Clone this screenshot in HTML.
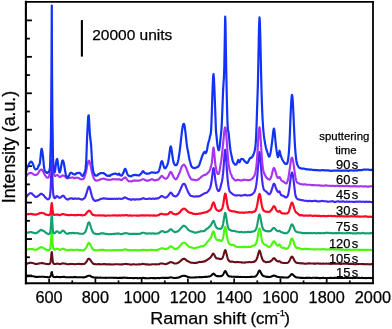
<!DOCTYPE html>
<html><head><meta charset="utf-8"><title>Raman spectra</title>
<style>
html,body{margin:0;padding:0;background:#fff;}
svg{display:block;font-family:"Liberation Sans",sans-serif;fill:#000;}
text{stroke:#000;stroke-width:0.25px;}
</style></head><body>
<svg width="392" height="329" viewBox="0 0 392 329">
<rect x="0" y="0" width="392" height="329" fill="#fff"/>
<g stroke="#000" stroke-width="1.8" fill="none">
<line x1="25.7" y1="20.40" x2="31.9" y2="20.40"/>
<line x1="25.7" y1="56.84" x2="31.9" y2="56.84"/>
<line x1="25.7" y1="93.28" x2="31.9" y2="93.28"/>
<line x1="25.7" y1="129.72" x2="31.9" y2="129.72"/>
<line x1="25.7" y1="166.16" x2="31.9" y2="166.16"/>
<line x1="25.7" y1="202.60" x2="31.9" y2="202.60"/>
<line x1="25.7" y1="239.04" x2="31.9" y2="239.04"/>
<line x1="25.7" y1="275.48" x2="31.9" y2="275.48"/>
<line x1="25.7" y1="38.62" x2="29.9" y2="38.62"/>
<line x1="25.7" y1="75.06" x2="29.9" y2="75.06"/>
<line x1="25.7" y1="111.50" x2="29.9" y2="111.50"/>
<line x1="25.7" y1="147.94" x2="29.9" y2="147.94"/>
<line x1="25.7" y1="184.38" x2="29.9" y2="184.38"/>
<line x1="25.7" y1="220.82" x2="29.9" y2="220.82"/>
<line x1="25.7" y1="257.26" x2="29.9" y2="257.26"/>
</g>
<g>
<path d="M26.3,276.5 L26.7,276.5 L27.1,276.3 L27.5,276.2 L27.9,276.2 L28.3,276.1 L28.7,276.1 L29.1,276.1 L29.5,276.1 L29.9,276.0 L30.3,276.0 L30.7,276.1 L31.1,276.1 L31.5,276.1 L31.9,276.2 L32.3,276.2 L32.7,276.3 L33.1,276.3 L33.5,276.3 L33.9,276.4 L34.3,276.5 L34.7,276.7 L35.1,276.8 L35.5,276.9 L35.9,276.9 L36.3,276.9 L36.7,276.9 L37.1,276.9 L37.5,277.0 L37.9,276.9 L38.3,276.9 L38.7,276.8 L39.1,276.8 L39.5,276.8 L39.9,276.8 L40.3,276.8 L40.7,276.7 L41.1,276.7 L41.5,276.7 L41.6,276.7 L41.9,276.7 L42.3,276.7 L42.7,276.7 L43.1,276.7 L43.5,276.8 L43.9,276.8 L44.3,276.9 L44.7,276.9 L45.1,277.0 L45.5,277.0 L45.9,277.0 L46.3,277.0 L46.7,277.0 L47.1,277.1 L47.5,277.1 L47.9,277.2 L48.3,277.2 L48.7,277.2 L49.1,277.2 L49.5,277.1 L49.9,276.9 L50.3,276.6 L50.7,275.8 L51.1,274.3 L51.5,272.5 L51.8,272.0 L51.9,272.2 L52.3,274.0 L52.7,275.6 L53.1,276.5 L53.5,276.8 L53.9,277.0 L54.3,277.0 L54.7,277.1 L55.1,277.1 L55.5,277.1 L55.9,277.0 L56.3,276.9 L56.7,276.9 L57.1,276.9 L57.1,276.9 L57.5,276.9 L57.9,277.0 L58.3,277.0 L58.7,277.0 L59.1,277.0 L59.5,277.1 L59.9,277.1 L60.3,277.1 L60.7,277.1 L61.1,277.1 L61.5,277.0 L61.9,277.0 L62.3,277.0 L62.7,276.9 L62.8,276.9 L63.1,276.9 L63.5,276.8 L63.9,276.8 L64.3,276.9 L64.7,276.9 L65.1,277.1 L65.5,277.2 L65.9,277.3 L66.3,277.3 L66.7,277.3 L67.1,277.3 L67.5,277.3 L67.9,277.3 L68.3,277.3 L68.7,277.3 L69.1,277.2 L69.5,277.2 L69.9,277.2 L70.3,277.2 L70.7,277.1 L71.1,277.2 L71.5,277.2 L71.9,277.2 L72.3,277.2 L72.7,277.2 L73.1,277.2 L73.5,277.1 L73.9,277.1 L74.3,277.1 L74.7,277.1 L75.1,277.1 L75.5,277.1 L75.9,277.1 L76.3,277.2 L76.7,277.2 L77.1,277.2 L77.5,277.2 L77.9,277.2 L78.3,277.3 L78.7,277.3 L79.1,277.3 L79.5,277.2 L79.9,277.2 L80.3,277.3 L80.7,277.3 L81.1,277.3 L81.5,277.3 L81.9,277.3 L82.3,277.3 L82.7,277.3 L83.1,277.4 L83.5,277.4 L83.9,277.4 L84.3,277.3 L84.7,277.2 L85.1,277.1 L85.5,277.0 L85.9,276.8 L86.3,276.7 L86.7,276.5 L87.1,276.3 L87.5,276.1 L87.9,275.9 L88.2,275.8 L88.3,275.8 L88.7,275.7 L89.1,275.7 L89.5,275.7 L89.9,275.8 L90.3,276.0 L90.7,276.2 L91.1,276.5 L91.5,276.7 L91.9,276.9 L92.3,277.1 L92.7,277.2 L93.1,277.3 L93.5,277.3 L93.9,277.4 L94.3,277.5 L94.7,277.5 L95.1,277.6 L95.5,277.6 L95.9,277.6 L96.3,277.6 L96.7,277.6 L97.1,277.6 L97.5,277.6 L97.9,277.7 L98.3,277.7 L98.7,277.7 L99.1,277.7 L99.5,277.7 L99.9,277.6 L100.3,277.6 L100.7,277.7 L101.1,277.7 L101.5,277.8 L101.9,277.8 L102.3,277.8 L102.7,277.8 L103.1,277.8 L103.5,277.8 L103.9,277.8 L104.3,277.7 L104.7,277.8 L105.1,277.8 L105.5,277.9 L105.9,277.9 L106.3,277.8 L106.7,277.8 L107.1,277.7 L107.5,277.7 L107.9,277.8 L108.3,277.8 L108.7,277.7 L109.1,277.7 L109.5,277.7 L109.9,277.7 L110.3,277.8 L110.7,277.8 L111.1,277.8 L111.5,277.8 L111.9,277.7 L112.3,277.7 L112.7,277.8 L113.1,277.8 L113.5,277.8 L113.9,277.9 L114.3,277.9 L114.7,277.8 L115.1,277.8 L115.5,277.8 L115.9,277.8 L116.3,277.9 L116.7,277.9 L117.1,277.9 L117.5,278.0 L117.9,278.0 L118.3,277.9 L118.7,277.9 L119.1,277.9 L119.5,277.9 L119.9,277.8 L120.3,277.9 L120.7,277.9 L121.1,277.9 L121.5,277.9 L121.9,277.9 L122.3,277.9 L122.7,277.8 L123.1,277.7 L123.5,277.6 L123.9,277.6 L124.3,277.6 L124.7,277.7 L125.1,277.8 L125.5,277.8 L125.9,277.8 L126.3,277.8 L126.7,277.9 L127.1,277.9 L127.5,277.9 L127.9,278.0 L128.3,278.0 L128.7,278.0 L129.1,278.0 L129.5,278.0 L129.9,278.0 L130.3,278.0 L130.7,278.0 L131.1,278.0 L131.5,278.0 L131.9,278.0 L132.3,278.0 L132.7,278.1 L133.1,278.1 L133.5,278.2 L133.9,278.1 L134.3,278.1 L134.7,278.0 L135.1,278.0 L135.5,278.0 L135.9,278.0 L136.3,278.1 L136.7,278.0 L137.1,278.1 L137.5,278.1 L137.9,278.2 L138.3,278.2 L138.7,278.2 L139.1,278.2 L139.5,278.1 L139.9,278.0 L140.3,278.0 L140.7,278.1 L141.1,278.1 L141.5,278.1 L141.9,278.0 L142.3,278.0 L142.7,277.9 L143.1,277.9 L143.5,277.9 L143.9,278.0 L144.3,278.1 L144.7,278.1 L145.1,278.1 L145.5,278.1 L145.9,278.2 L146.3,278.2 L146.7,278.2 L147.1,278.2 L147.5,278.2 L147.9,278.2 L148.3,278.2 L148.7,278.2 L149.1,278.2 L149.5,278.2 L149.9,278.1 L150.3,278.1 L150.7,278.0 L151.1,278.0 L151.5,278.0 L151.9,278.0 L152.3,278.0 L152.7,278.1 L153.1,278.1 L153.5,278.1 L153.9,278.1 L154.3,278.1 L154.7,278.1 L155.1,278.1 L155.5,278.2 L155.9,278.2 L156.3,278.2 L156.7,278.1 L157.1,278.1 L157.5,278.0 L157.9,278.0 L158.3,278.0 L158.7,278.1 L159.1,278.1 L159.5,278.1 L159.9,278.1 L160.3,278.0 L160.7,278.0 L161.1,277.9 L161.5,277.8 L161.9,277.8 L162.3,277.7 L162.7,277.8 L163.1,277.9 L163.5,277.9 L163.9,277.9 L164.3,277.9 L164.7,277.9 L165.1,277.9 L165.5,277.9 L165.9,277.9 L166.3,277.9 L166.7,277.9 L167.1,277.9 L167.5,277.9 L167.9,277.9 L168.3,277.9 L168.7,277.8 L169.1,277.7 L169.5,277.6 L169.9,277.5 L170.3,277.4 L170.7,277.4 L171.1,277.4 L171.5,277.5 L171.9,277.6 L172.3,277.7 L172.7,277.7 L173.1,277.7 L173.5,277.9 L173.9,278.0 L174.3,278.1 L174.7,278.0 L175.1,278.0 L175.5,277.9 L175.9,277.9 L176.3,277.9 L176.7,277.8 L177.1,277.8 L177.5,277.7 L177.9,277.7 L178.3,277.6 L178.7,277.5 L179.1,277.3 L179.5,277.2 L179.9,277.0 L180.3,276.8 L180.7,276.6 L181.1,276.4 L181.5,276.2 L181.9,276.1 L182.3,276.0 L182.7,275.9 L183.1,275.8 L183.5,275.7 L183.8,275.7 L183.9,275.7 L184.3,275.8 L184.7,275.9 L185.1,275.9 L185.5,276.0 L185.9,276.1 L186.3,276.3 L186.7,276.4 L187.1,276.6 L187.5,276.8 L187.9,277.0 L188.3,277.1 L188.7,277.2 L189.1,277.2 L189.5,277.3 L189.9,277.4 L190.3,277.5 L190.7,277.6 L191.1,277.6 L191.5,277.5 L191.9,277.5 L192.3,277.5 L192.7,277.5 L193.1,277.5 L193.5,277.5 L193.9,277.5 L194.3,277.5 L194.7,277.4 L195.1,277.4 L195.5,277.4 L195.9,277.4 L196.3,277.3 L196.7,277.3 L197.1,277.2 L197.5,277.2 L197.9,277.2 L198.3,277.2 L198.7,277.2 L199.1,277.2 L199.5,277.1 L199.9,277.1 L200.3,277.1 L200.7,277.2 L201.1,277.2 L201.5,277.2 L201.9,277.1 L202.3,277.1 L202.7,277.1 L203.1,277.0 L203.5,277.0 L203.9,277.0 L204.3,277.0 L204.7,276.9 L205.1,276.9 L205.5,276.9 L205.9,276.9 L206.3,276.9 L206.7,276.8 L207.1,276.8 L207.5,276.7 L207.9,276.7 L208.3,276.6 L208.7,276.5 L209.1,276.5 L209.5,276.4 L209.9,276.3 L210.3,276.1 L210.7,275.8 L211.1,275.6 L211.5,275.3 L211.9,274.9 L212.3,274.5 L212.7,274.1 L213.1,273.8 L213.5,273.7 L213.5,273.6 L213.9,273.8 L214.3,274.1 L214.7,274.6 L215.1,275.0 L215.5,275.4 L215.9,275.6 L216.3,275.9 L216.7,276.1 L217.1,276.2 L217.5,276.1 L217.9,276.1 L218.3,276.1 L218.7,276.2 L219.1,276.2 L219.5,276.2 L219.9,276.2 L220.3,276.2 L220.7,276.1 L221.1,276.1 L221.5,275.9 L221.9,275.8 L222.3,275.5 L222.7,275.2 L223.1,274.6 L223.5,273.9 L223.9,273.1 L224.3,272.3 L224.7,271.7 L225.1,271.3 L225.2,271.2 L225.2,271.1 L225.5,271.2 L225.9,271.7 L226.3,272.5 L226.7,273.4 L227.1,274.2 L227.5,274.8 L227.9,275.4 L228.3,275.8 L228.7,276.2 L229.1,276.4 L229.5,276.4 L229.9,276.5 L230.3,276.5 L230.7,276.5 L231.1,276.6 L231.5,276.6 L231.9,276.7 L232.3,276.7 L232.7,276.8 L233.1,276.8 L233.5,276.8 L233.9,276.8 L234.3,276.8 L234.7,276.8 L235.1,276.8 L235.5,276.9 L235.9,276.9 L236.3,276.9 L236.7,276.9 L237.1,276.9 L237.5,276.9 L237.9,276.9 L238.3,276.9 L238.7,276.9 L239.1,277.0 L239.5,277.0 L239.9,277.0 L240.3,276.9 L240.7,276.9 L241.1,277.0 L241.5,277.0 L241.9,277.0 L242.3,277.0 L242.7,277.0 L243.1,277.0 L243.5,277.0 L243.9,277.0 L244.3,277.0 L244.7,277.0 L245.1,277.0 L245.5,277.1 L245.9,277.1 L246.3,277.1 L246.7,277.0 L247.1,277.0 L247.5,277.1 L247.9,277.0 L248.3,277.0 L248.7,277.0 L249.1,277.0 L249.5,277.0 L249.9,277.0 L250.3,276.9 L250.7,276.9 L251.1,276.9 L251.5,276.9 L251.9,276.8 L252.3,276.8 L252.7,276.7 L253.1,276.8 L253.5,276.8 L253.9,276.8 L254.3,276.7 L254.7,276.7 L255.1,276.6 L255.5,276.4 L255.9,276.1 L256.3,275.7 L256.7,275.2 L257.1,274.6 L257.5,273.9 L257.9,273.1 L258.3,272.2 L258.7,271.4 L259.1,270.7 L259.5,270.5 L259.5,270.6 L259.9,270.8 L260.3,271.4 L260.7,272.2 L261.1,273.0 L261.5,273.8 L261.9,274.5 L262.3,275.0 L262.7,275.5 L263.1,275.8 L263.5,276.1 L263.9,276.2 L264.3,276.3 L264.7,276.3 L265.1,276.4 L265.5,276.5 L265.9,276.6 L266.3,276.8 L266.7,276.9 L267.1,276.9 L267.5,276.9 L267.9,276.9 L268.3,276.9 L268.7,276.9 L269.1,277.0 L269.5,277.1 L269.9,277.0 L270.3,276.9 L270.7,276.8 L271.1,276.6 L271.5,276.5 L271.9,276.3 L272.3,276.1 L272.7,276.0 L273.1,275.8 L273.5,275.6 L273.9,275.6 L274.0,275.5 L274.3,275.6 L274.7,275.7 L275.1,275.9 L275.5,276.0 L275.9,276.2 L276.3,276.4 L276.7,276.7 L277.1,276.8 L277.5,276.8 L277.9,276.9 L278.3,277.0 L278.7,277.0 L279.1,277.1 L279.5,277.2 L279.9,277.2 L280.3,277.3 L280.7,277.3 L281.1,277.4 L281.5,277.4 L281.9,277.4 L282.3,277.4 L282.7,277.4 L283.1,277.4 L283.5,277.4 L283.9,277.5 L284.3,277.5 L284.7,277.5 L285.1,277.5 L285.5,277.5 L285.9,277.5 L286.3,277.5 L286.7,277.5 L287.1,277.6 L287.5,277.6 L287.9,277.5 L288.3,277.3 L288.7,277.0 L289.1,276.7 L289.5,276.3 L289.9,275.9 L290.3,275.4 L290.7,275.0 L291.1,274.6 L291.5,274.2 L291.9,274.1 L292.0,274.2 L292.3,274.3 L292.7,274.5 L293.1,274.8 L293.5,275.3 L293.9,275.7 L294.3,276.1 L294.7,276.4 L295.1,276.7 L295.5,277.0 L295.9,277.2 L296.3,277.4 L296.7,277.4 L297.1,277.5 L297.5,277.5 L297.9,277.5 L298.3,277.5 L298.7,277.6 L299.1,277.7 L299.5,277.8 L299.9,277.8 L300.3,277.8 L300.7,277.9 L301.1,277.9 L301.5,277.9 L301.9,277.9 L302.3,277.9 L302.7,277.9 L303.1,277.9 L303.5,278.0 L303.9,278.0 L304.3,278.1 L304.7,278.0 L305.1,277.9 L305.5,277.9 L305.9,277.9 L306.3,277.9 L306.7,277.9 L307.1,277.9 L307.5,277.9 L307.9,277.8 L308.3,277.8 L308.7,277.8 L309.1,277.9 L309.5,277.8 L309.9,277.8 L310.3,277.8 L310.7,277.9 L311.1,278.0 L311.5,278.1 L311.9,278.0 L312.3,277.9 L312.7,277.8 L313.1,277.8 L313.5,277.8 L313.9,277.8 L314.3,277.8 L314.7,277.8 L315.1,277.8 L315.5,277.9 L315.9,277.9 L316.3,277.9 L316.7,277.9 L317.1,277.9 L317.5,277.9 L317.9,277.8 L318.3,277.9 L318.7,278.0 L319.1,278.1 L319.5,278.1 L319.9,278.1 L320.3,278.1 L320.7,278.0 L321.1,278.0 L321.5,278.0 L321.9,278.0 L322.3,277.9 L322.7,277.9 L323.1,277.9 L323.5,277.9 L323.9,277.9 L324.3,278.0 L324.7,278.0 L325.1,278.0 L325.5,278.0 L325.9,278.0 L326.3,278.0 L326.7,277.9 L327.1,278.0 L327.5,278.0 L327.9,278.0 L328.3,278.0 L328.7,278.0 L329.1,278.0 L329.5,278.0 L329.9,277.9 L330.3,277.9 L330.7,277.9 L331.1,277.9 L331.5,277.9 L331.9,278.0 L332.3,278.0 L332.7,278.0 L333.1,278.0 L333.5,277.9 L333.9,277.9 L334.3,277.9 L334.7,277.9 L335.1,277.9 L335.5,277.8 L335.9,277.8 L336.3,277.8 L336.7,277.9 L337.1,278.0 L337.5,278.0 L337.9,278.0 L338.3,277.9 L338.7,277.9 L339.1,277.8 L339.5,277.8 L339.9,277.9 L340.3,277.9 L340.7,277.9 L341.1,277.9 L341.5,277.9 L341.9,278.0 L342.3,278.0 L342.7,278.0 L343.1,278.0 L343.5,278.0 L343.9,278.0 L344.3,278.0 L344.7,278.0 L345.1,278.0 L345.5,277.9 L345.9,277.9 L346.3,277.9 L346.7,277.9 L347.1,278.0 L347.5,278.0 L347.9,277.9 L348.3,277.9 L348.7,277.8 L349.1,277.9 L349.5,277.9 L349.9,277.9 L350.3,277.9 L350.7,277.9 L351.1,277.9 L351.5,278.0 L351.9,278.0 L352.3,278.1 L352.7,278.1 L353.1,278.0 L353.5,277.9 L353.9,277.9 L354.3,277.9 L354.7,277.9 L355.1,277.9 L355.5,277.9 L355.9,277.9 L356.3,277.8 L356.7,277.8 L357.1,277.8 L357.5,277.8 L357.9,277.9 L358.3,277.9 L358.7,277.9 L359.1,277.9 L359.5,277.9 L359.9,278.0 L360.3,278.0 L360.7,278.0 L361.1,277.9 L361.5,277.9 L361.9,277.9 L362.3,277.9 L362.7,277.9 L363.1,278.0 L363.5,278.0 L363.9,278.1 L364.3,278.0 L364.7,278.0 L365.1,278.0 L365.5,278.1 L365.9,278.1 L366.3,278.1 L366.7,278.0 L367.1,278.0 L367.5,278.0 L367.9,278.0 L368.3,278.0 L368.7,277.9 L369.1,277.9 L369.5,278.0 L369.9,278.0 L370.3,278.1 L370.7,278.1 L371.1,278.0 L371.5,278.0 L371.9,278.1 L372.3,278.1" fill="none" stroke="#050505" stroke-width="2.1" stroke-linejoin="round" stroke-linecap="round"/>
<path d="M26.3,263.9 L26.7,263.8 L27.1,263.7 L27.5,263.5 L27.9,263.3 L28.3,263.2 L28.7,263.1 L29.1,263.0 L29.5,262.9 L29.9,262.9 L30.3,262.8 L30.7,262.8 L31.1,262.8 L31.5,262.8 L31.9,262.9 L32.3,263.0 L32.7,263.1 L33.1,263.2 L33.5,263.3 L33.9,263.4 L34.3,263.5 L34.7,263.6 L35.1,263.9 L35.5,264.0 L35.9,264.1 L36.3,264.0 L36.7,263.9 L37.1,263.9 L37.5,263.8 L37.9,263.7 L38.3,263.6 L38.7,263.6 L39.1,263.5 L39.5,263.4 L39.9,263.3 L40.3,263.2 L40.7,263.2 L41.1,263.2 L41.5,263.2 L41.6,263.1 L41.9,263.0 L42.3,263.0 L42.7,263.2 L43.1,263.3 L43.5,263.4 L43.9,263.5 L44.3,263.5 L44.7,263.6 L45.1,263.7 L45.5,263.8 L45.9,263.9 L46.3,264.0 L46.7,264.0 L47.1,264.0 L47.5,264.1 L47.9,264.1 L48.3,264.1 L48.7,264.1 L49.1,264.0 L49.5,264.0 L49.9,263.7 L50.3,263.0 L50.7,261.2 L51.1,257.7 L51.5,253.2 L51.8,252.0 L51.9,252.4 L52.3,256.5 L52.7,260.4 L53.1,262.6 L53.5,263.5 L53.9,263.8 L54.3,263.9 L54.7,264.0 L55.1,264.0 L55.5,264.0 L55.9,263.9 L56.3,263.8 L56.7,263.7 L57.1,263.6 L57.1,263.6 L57.5,263.7 L57.9,263.8 L58.3,263.8 L58.7,263.8 L59.1,263.9 L59.5,264.0 L59.9,264.1 L60.3,264.1 L60.7,263.9 L61.1,263.8 L61.5,263.7 L61.9,263.5 L62.3,263.4 L62.7,263.3 L62.8,263.3 L63.1,263.4 L63.5,263.4 L63.9,263.5 L64.3,263.5 L64.7,263.6 L65.1,263.7 L65.5,263.7 L65.9,263.8 L66.3,264.0 L66.7,264.1 L67.1,264.2 L67.5,264.2 L67.9,264.2 L68.3,264.2 L68.7,264.2 L69.1,264.1 L69.5,264.1 L69.9,264.0 L70.3,264.0 L70.7,263.9 L71.1,264.0 L71.5,264.0 L71.9,264.0 L72.3,264.0 L72.7,264.0 L73.1,264.0 L73.5,264.1 L73.9,264.1 L74.3,264.2 L74.7,264.2 L75.1,264.3 L75.5,264.2 L75.9,264.1 L76.3,264.0 L76.7,264.0 L77.1,264.0 L77.5,264.0 L77.9,264.0 L78.3,263.9 L78.7,263.8 L79.1,263.9 L79.5,263.9 L79.9,264.0 L80.3,264.0 L80.7,264.1 L81.1,264.1 L81.5,264.1 L81.9,264.1 L82.3,264.0 L82.7,263.9 L83.1,264.0 L83.5,264.0 L83.9,264.0 L84.3,263.9 L84.7,263.6 L85.1,263.3 L85.5,262.9 L85.9,262.5 L86.3,262.0 L86.7,261.5 L87.1,260.8 L87.5,260.1 L87.9,259.4 L88.2,258.9 L88.3,258.9 L88.7,258.7 L89.1,258.7 L89.5,258.9 L89.9,259.3 L90.3,259.8 L90.7,260.4 L91.1,261.1 L91.5,261.7 L91.9,262.2 L92.3,262.7 L92.7,263.1 L93.1,263.6 L93.5,263.9 L93.9,264.0 L94.3,264.0 L94.7,264.1 L95.1,264.1 L95.5,264.2 L95.9,264.2 L96.3,264.3 L96.7,264.3 L97.1,264.3 L97.5,264.3 L97.9,264.1 L98.3,264.1 L98.7,264.1 L99.1,264.1 L99.5,264.2 L99.9,264.2 L100.3,264.4 L100.7,264.4 L101.1,264.3 L101.5,264.3 L101.9,264.3 L102.3,264.2 L102.7,264.2 L103.1,264.1 L103.5,264.1 L103.9,264.1 L104.3,264.2 L104.7,264.1 L105.1,264.1 L105.5,264.2 L105.9,264.3 L106.3,264.4 L106.7,264.4 L107.1,264.4 L107.5,264.4 L107.9,264.3 L108.3,264.3 L108.7,264.3 L109.1,264.4 L109.5,264.4 L109.9,264.4 L110.3,264.4 L110.7,264.4 L111.1,264.4 L111.5,264.5 L111.9,264.5 L112.3,264.5 L112.7,264.4 L113.1,264.4 L113.5,264.5 L113.9,264.4 L114.3,264.3 L114.7,264.2 L115.1,264.2 L115.5,264.2 L115.9,264.2 L116.3,264.3 L116.7,264.2 L117.1,264.2 L117.5,264.2 L117.9,264.2 L118.3,264.2 L118.7,264.3 L119.1,264.3 L119.5,264.4 L119.9,264.5 L120.3,264.5 L120.7,264.4 L121.1,264.4 L121.5,264.4 L121.9,264.4 L122.3,264.4 L122.7,264.4 L123.1,264.3 L123.5,264.2 L123.9,264.1 L124.3,264.0 L124.7,264.0 L125.1,264.0 L125.5,264.0 L125.9,263.9 L126.3,263.8 L126.7,263.9 L127.1,264.0 L127.5,264.2 L127.9,264.3 L128.3,264.3 L128.7,264.2 L129.1,264.3 L129.5,264.4 L129.9,264.4 L130.3,264.5 L130.7,264.5 L131.1,264.6 L131.5,264.6 L131.9,264.5 L132.3,264.4 L132.7,264.4 L133.1,264.3 L133.5,264.3 L133.9,264.3 L134.3,264.3 L134.7,264.4 L135.1,264.5 L135.5,264.5 L135.9,264.5 L136.3,264.5 L136.7,264.5 L137.1,264.5 L137.5,264.5 L137.9,264.4 L138.3,264.3 L138.7,264.3 L139.1,264.3 L139.5,264.4 L139.9,264.4 L140.3,264.3 L140.7,264.3 L141.1,264.3 L141.5,264.2 L141.9,264.1 L142.3,263.9 L142.7,263.9 L143.1,263.9 L143.5,264.0 L143.9,264.0 L144.3,264.1 L144.7,264.2 L145.1,264.3 L145.5,264.4 L145.9,264.4 L146.3,264.4 L146.7,264.4 L147.1,264.4 L147.5,264.4 L147.9,264.4 L148.3,264.5 L148.7,264.6 L149.1,264.6 L149.5,264.6 L149.9,264.6 L150.3,264.5 L150.7,264.5 L151.1,264.5 L151.5,264.4 L151.9,264.3 L152.3,264.2 L152.7,264.2 L153.1,264.2 L153.5,264.2 L153.9,264.2 L154.3,264.2 L154.7,264.2 L155.1,264.2 L155.5,264.3 L155.9,264.4 L156.3,264.4 L156.7,264.3 L157.1,264.2 L157.5,264.2 L157.9,264.2 L158.3,264.2 L158.7,264.2 L159.1,264.2 L159.5,264.0 L159.9,263.8 L160.3,263.6 L160.7,263.5 L161.1,263.5 L161.5,263.5 L161.9,263.5 L162.3,263.5 L162.7,263.6 L163.1,263.7 L163.5,263.8 L163.9,263.8 L164.3,263.9 L164.7,264.0 L165.1,264.1 L165.5,264.2 L165.9,264.2 L166.3,264.1 L166.7,263.9 L167.1,263.7 L167.5,263.5 L167.9,263.3 L168.3,263.2 L168.7,263.0 L169.1,262.8 L169.5,262.5 L169.9,262.3 L170.3,262.2 L170.7,262.1 L171.1,262.2 L171.5,262.3 L171.9,262.4 L172.3,262.5 L172.7,262.6 L173.1,262.8 L173.5,263.0 L173.9,263.2 L174.3,263.4 L174.7,263.5 L175.1,263.5 L175.5,263.5 L175.9,263.5 L176.3,263.4 L176.7,263.3 L177.1,263.2 L177.5,263.1 L177.9,262.9 L178.3,262.7 L178.7,262.4 L179.1,262.1 L179.5,261.8 L179.9,261.5 L180.3,261.1 L180.7,260.8 L181.1,260.5 L181.5,260.2 L181.9,259.8 L182.3,259.4 L182.7,259.1 L183.1,259.0 L183.5,258.9 L183.8,258.9 L183.9,258.9 L184.3,258.9 L184.7,258.9 L185.1,259.1 L185.5,259.4 L185.9,259.8 L186.3,260.1 L186.7,260.5 L187.1,260.8 L187.5,261.1 L187.9,261.2 L188.3,261.4 L188.7,261.6 L189.1,261.8 L189.5,262.1 L189.9,262.3 L190.3,262.5 L190.7,262.6 L191.1,262.7 L191.5,262.7 L191.9,262.7 L192.3,262.7 L192.7,262.8 L193.1,262.8 L193.5,262.9 L193.9,263.0 L194.3,263.0 L194.7,263.0 L195.1,262.9 L195.5,262.9 L195.9,262.9 L196.3,262.9 L196.7,262.8 L197.1,262.7 L197.5,262.5 L197.9,262.4 L198.3,262.3 L198.7,262.2 L199.1,262.0 L199.5,261.9 L199.9,261.9 L200.3,262.0 L200.7,262.1 L201.1,262.0 L201.5,261.9 L201.9,261.8 L202.3,261.9 L202.7,261.8 L203.1,261.7 L203.5,261.5 L203.9,261.4 L204.3,261.4 L204.7,261.4 L205.1,261.3 L205.5,261.0 L205.9,260.7 L206.3,260.4 L206.7,260.2 L207.1,259.9 L207.5,259.7 L207.9,259.4 L208.3,259.2 L208.7,258.9 L209.1,258.6 L209.5,258.3 L209.9,257.9 L210.3,257.6 L210.7,257.2 L211.1,256.7 L211.5,256.0 L211.9,255.4 L212.3,254.6 L212.7,254.0 L213.1,253.6 L213.5,253.7 L213.5,253.8 L213.9,254.2 L214.3,254.8 L214.7,255.6 L215.1,256.5 L215.5,257.2 L215.9,257.8 L216.3,258.2 L216.7,258.4 L217.1,258.5 L217.5,258.5 L217.9,258.6 L218.3,258.6 L218.7,258.6 L219.1,258.7 L219.5,258.8 L219.9,259.0 L220.3,259.1 L220.7,259.1 L221.1,259.0 L221.5,258.9 L221.9,258.6 L222.3,258.2 L222.7,257.5 L223.1,256.5 L223.5,255.3 L223.9,253.8 L224.3,252.3 L224.7,250.9 L225.1,250.1 L225.2,250.1 L225.2,250.1 L225.5,250.4 L225.9,251.4 L226.3,252.9 L226.7,254.6 L227.1,256.2 L227.5,257.6 L227.9,258.8 L228.3,259.8 L228.7,260.5 L229.1,261.0 L229.5,261.2 L229.9,261.5 L230.3,261.7 L230.7,261.7 L231.1,261.7 L231.5,261.6 L231.9,261.6 L232.3,261.6 L232.7,261.7 L233.1,261.8 L233.5,261.9 L233.9,262.0 L234.3,262.1 L234.7,262.2 L235.1,262.3 L235.5,262.2 L235.9,262.2 L236.3,262.1 L236.7,262.1 L237.1,262.1 L237.5,262.0 L237.9,261.9 L238.3,262.0 L238.7,262.1 L239.1,262.3 L239.5,262.3 L239.9,262.2 L240.3,262.2 L240.7,262.2 L241.1,262.3 L241.5,262.5 L241.9,262.6 L242.3,262.6 L242.7,262.5 L243.1,262.5 L243.5,262.5 L243.9,262.6 L244.3,262.6 L244.7,262.6 L245.1,262.5 L245.5,262.4 L245.9,262.4 L246.3,262.3 L246.7,262.3 L247.1,262.3 L247.5,262.3 L247.9,262.3 L248.3,262.3 L248.7,262.2 L249.1,262.1 L249.5,262.0 L249.9,262.1 L250.3,262.2 L250.7,262.3 L251.1,262.3 L251.5,262.2 L251.9,262.2 L252.3,262.1 L252.7,262.0 L253.1,261.9 L253.5,261.8 L253.9,261.9 L254.3,261.8 L254.7,261.5 L255.1,261.2 L255.5,260.9 L255.9,260.4 L256.3,259.7 L256.7,259.0 L257.1,258.0 L257.5,256.8 L257.9,255.4 L258.3,253.8 L258.7,252.4 L259.1,251.2 L259.5,250.7 L259.5,250.6 L259.9,251.0 L260.3,252.2 L260.7,253.7 L261.1,255.3 L261.5,256.7 L261.9,258.0 L262.3,259.0 L262.7,259.8 L263.1,260.5 L263.5,261.0 L263.9,261.3 L264.3,261.5 L264.7,261.6 L265.1,261.8 L265.5,262.0 L265.9,262.2 L266.3,262.3 L266.7,262.2 L267.1,262.1 L267.5,262.0 L267.9,262.0 L268.3,261.9 L268.7,261.9 L269.1,261.9 L269.5,261.8 L269.9,261.7 L270.3,261.5 L270.7,261.2 L271.1,260.9 L271.5,260.6 L271.9,260.2 L272.3,259.8 L272.7,259.2 L273.1,258.7 L273.5,258.3 L273.9,258.2 L274.0,258.2 L274.3,258.2 L274.7,258.5 L275.1,259.0 L275.5,259.5 L275.9,260.0 L276.3,260.5 L276.7,260.8 L277.1,261.1 L277.5,261.3 L277.9,261.4 L278.3,261.4 L278.7,261.4 L279.1,261.2 L279.5,261.2 L279.9,261.4 L280.3,261.9 L280.7,262.3 L281.1,262.5 L281.5,262.6 L281.9,262.7 L282.3,262.7 L282.7,262.8 L283.1,262.9 L283.5,263.0 L283.9,263.0 L284.3,263.0 L284.7,263.0 L285.1,263.0 L285.5,263.1 L285.9,263.0 L286.3,263.0 L286.7,263.0 L287.1,262.9 L287.5,262.8 L287.9,262.6 L288.3,262.3 L288.7,261.9 L289.1,261.4 L289.5,260.7 L289.9,259.9 L290.3,259.0 L290.7,258.2 L291.1,257.4 L291.5,256.8 L291.9,256.6 L292.0,256.6 L292.3,256.8 L292.7,257.2 L293.1,257.8 L293.5,258.6 L293.9,259.5 L294.3,260.3 L294.7,261.1 L295.1,261.6 L295.5,262.0 L295.9,262.3 L296.3,262.7 L296.7,262.8 L297.1,262.9 L297.5,262.9 L297.9,263.0 L298.3,263.1 L298.7,263.2 L299.1,263.1 L299.5,263.2 L299.9,263.2 L300.3,263.3 L300.7,263.4 L301.1,263.4 L301.5,263.3 L301.9,263.3 L302.3,263.3 L302.7,263.4 L303.1,263.4 L303.5,263.5 L303.9,263.6 L304.3,263.6 L304.7,263.7 L305.1,263.7 L305.5,263.7 L305.9,263.7 L306.3,263.6 L306.7,263.6 L307.1,263.6 L307.5,263.5 L307.9,263.5 L308.3,263.4 L308.7,263.4 L309.1,263.4 L309.5,263.4 L309.9,263.4 L310.3,263.4 L310.7,263.5 L311.1,263.5 L311.5,263.5 L311.9,263.5 L312.3,263.5 L312.7,263.5 L313.1,263.6 L313.5,263.6 L313.9,263.6 L314.3,263.6 L314.7,263.6 L315.1,263.6 L315.5,263.6 L315.9,263.6 L316.3,263.6 L316.7,263.5 L317.1,263.4 L317.5,263.4 L317.9,263.4 L318.3,263.5 L318.7,263.5 L319.1,263.6 L319.5,263.6 L319.9,263.6 L320.3,263.6 L320.7,263.6 L321.1,263.7 L321.5,263.7 L321.9,263.7 L322.3,263.6 L322.7,263.6 L323.1,263.6 L323.5,263.6 L323.9,263.7 L324.3,263.7 L324.7,263.7 L325.1,263.7 L325.5,263.7 L325.9,263.6 L326.3,263.5 L326.7,263.6 L327.1,263.7 L327.5,263.7 L327.9,263.7 L328.3,263.6 L328.7,263.6 L329.1,263.7 L329.5,263.8 L329.9,263.8 L330.3,263.9 L330.7,263.9 L331.1,263.9 L331.5,263.8 L331.9,263.7 L332.3,263.7 L332.7,263.7 L333.1,263.6 L333.5,263.6 L333.9,263.6 L334.3,263.7 L334.7,263.7 L335.1,263.7 L335.5,263.7 L335.9,263.7 L336.3,263.7 L336.7,263.7 L337.1,263.7 L337.5,263.7 L337.9,263.8 L338.3,263.7 L338.7,263.7 L339.1,263.7 L339.5,263.8 L339.9,263.9 L340.3,263.9 L340.7,263.9 L341.1,263.9 L341.5,263.9 L341.9,263.8 L342.3,263.7 L342.7,263.6 L343.1,263.6 L343.5,263.7 L343.9,263.8 L344.3,263.8 L344.7,263.8 L345.1,263.7 L345.5,263.8 L345.9,263.7 L346.3,263.8 L346.7,263.7 L347.1,263.7 L347.5,263.7 L347.9,263.8 L348.3,263.9 L348.7,264.0 L349.1,264.0 L349.5,263.9 L349.9,263.8 L350.3,263.8 L350.7,263.9 L351.1,263.9 L351.5,263.9 L351.9,263.9 L352.3,264.0 L352.7,264.0 L353.1,264.1 L353.5,264.1 L353.9,264.2 L354.3,264.2 L354.7,264.2 L355.1,264.2 L355.5,264.2 L355.9,264.2 L356.3,264.1 L356.7,264.1 L357.1,264.0 L357.5,264.0 L357.9,264.0 L358.3,264.1 L358.7,264.1 L359.1,264.1 L359.5,264.0 L359.9,264.0 L360.3,264.0 L360.7,264.1 L361.1,264.0 L361.5,264.0 L361.9,264.0 L362.3,264.1 L362.7,264.1 L363.1,264.1 L363.5,264.1 L363.9,264.1 L364.3,264.1 L364.7,264.2 L365.1,264.2 L365.5,264.2 L365.9,264.2 L366.3,264.2 L366.7,264.1 L367.1,264.1 L367.5,264.2 L367.9,264.3 L368.3,264.3 L368.7,264.2 L369.1,264.2 L369.5,264.3 L369.9,264.4 L370.3,264.4 L370.7,264.3 L371.1,264.2 L371.5,264.1 L371.9,264.1 L372.3,264.1" fill="none" stroke="#680c18" stroke-width="2.1" stroke-linejoin="round" stroke-linecap="round"/>
<path d="M26.3,249.7 L26.7,249.6 L27.1,249.5 L27.5,249.3 L27.9,249.3 L28.3,249.2 L28.7,249.2 L29.1,249.1 L29.5,249.0 L29.9,249.0 L30.3,249.0 L30.7,249.0 L31.1,249.0 L31.5,249.1 L31.9,249.1 L32.3,249.1 L32.7,249.1 L33.1,249.3 L33.5,249.4 L33.9,249.6 L34.3,249.7 L34.7,249.7 L35.1,249.6 L35.5,249.7 L35.9,249.7 L36.3,249.7 L36.7,249.5 L37.1,249.3 L37.5,249.1 L37.9,248.8 L38.3,248.6 L38.7,248.3 L39.1,248.2 L39.5,248.0 L39.9,247.7 L40.3,247.5 L40.7,247.3 L41.1,247.3 L41.5,247.3 L41.6,247.4 L41.9,247.4 L42.3,247.5 L42.7,247.6 L43.1,247.8 L43.5,248.0 L43.9,248.3 L44.3,248.5 L44.7,248.8 L45.1,249.0 L45.5,249.3 L45.9,249.5 L46.3,249.8 L46.7,249.9 L47.1,250.0 L47.5,250.0 L47.9,250.1 L48.3,250.0 L48.7,250.1 L49.1,250.0 L49.5,249.9 L49.9,249.4 L50.3,248.3 L50.7,245.5 L51.1,240.0 L51.5,233.1 L51.8,231.3 L51.9,232.1 L52.3,238.3 L52.7,244.3 L53.1,247.6 L53.5,248.9 L53.9,249.4 L54.3,249.6 L54.7,249.5 L55.1,249.3 L55.5,249.2 L55.9,249.0 L56.3,248.9 L56.7,248.8 L57.1,248.7 L57.1,248.8 L57.5,248.8 L57.9,248.9 L58.3,249.1 L58.7,249.3 L59.1,249.5 L59.5,249.7 L59.9,249.8 L60.3,249.8 L60.7,249.7 L61.1,249.4 L61.5,249.1 L61.9,248.8 L62.3,248.7 L62.7,248.7 L62.8,248.8 L63.1,248.8 L63.5,248.9 L63.9,249.0 L64.3,249.2 L64.7,249.3 L65.1,249.5 L65.5,249.7 L65.9,249.8 L66.3,250.0 L66.7,250.1 L67.1,250.2 L67.5,250.2 L67.9,250.2 L68.3,250.1 L68.7,250.1 L69.1,250.0 L69.5,249.9 L69.9,249.7 L70.3,249.7 L70.7,249.8 L71.1,250.0 L71.5,249.9 L71.9,249.9 L72.3,249.8 L72.7,249.9 L73.1,250.0 L73.5,250.1 L73.9,250.0 L74.3,250.0 L74.7,249.9 L75.1,249.8 L75.5,249.7 L75.9,249.7 L76.3,249.7 L76.7,249.7 L77.1,249.8 L77.5,249.8 L77.9,249.8 L78.3,249.9 L78.7,250.0 L79.1,250.1 L79.5,250.1 L79.9,250.1 L80.3,250.1 L80.7,250.1 L81.1,250.2 L81.5,250.2 L81.9,250.3 L82.3,250.4 L82.7,250.3 L83.1,250.3 L83.5,250.1 L83.9,250.0 L84.3,249.8 L84.7,249.5 L85.1,249.1 L85.5,248.6 L85.9,248.0 L86.3,247.4 L86.7,246.7 L87.1,245.8 L87.5,244.9 L87.9,244.1 L88.2,243.5 L88.3,243.4 L88.7,242.9 L89.1,242.9 L89.5,243.2 L89.9,243.9 L90.3,244.6 L90.7,245.5 L91.1,246.3 L91.5,247.1 L91.9,247.8 L92.3,248.5 L92.7,249.0 L93.1,249.5 L93.5,249.8 L93.9,250.0 L94.3,250.0 L94.7,250.0 L95.1,250.1 L95.5,250.2 L95.9,250.2 L96.3,250.2 L96.7,250.2 L97.1,250.2 L97.5,250.2 L97.9,250.3 L98.3,250.2 L98.7,250.1 L99.1,250.0 L99.5,250.0 L99.9,250.0 L100.3,249.9 L100.7,249.8 L101.1,249.8 L101.5,249.8 L101.9,249.8 L102.3,249.8 L102.7,249.8 L103.1,249.8 L103.5,249.8 L103.9,249.9 L104.3,250.0 L104.7,250.1 L105.1,250.2 L105.5,250.2 L105.9,250.2 L106.3,250.3 L106.7,250.4 L107.1,250.4 L107.5,250.3 L107.9,250.2 L108.3,250.2 L108.7,250.2 L109.1,250.2 L109.5,250.2 L109.9,250.2 L110.3,250.2 L110.7,250.3 L111.1,250.3 L111.5,250.3 L111.9,250.3 L112.3,250.3 L112.7,250.2 L113.1,250.1 L113.5,250.1 L113.9,250.2 L114.3,250.1 L114.7,250.0 L115.1,250.0 L115.5,250.1 L115.9,250.2 L116.3,250.3 L116.7,250.2 L117.1,250.1 L117.5,250.0 L117.9,250.0 L118.3,250.1 L118.7,250.1 L119.1,250.2 L119.5,250.1 L119.9,250.1 L120.3,250.1 L120.7,250.1 L121.1,250.1 L121.5,250.1 L121.9,250.1 L122.3,250.1 L122.7,250.1 L123.1,250.0 L123.5,249.9 L123.9,249.7 L124.3,249.5 L124.7,249.4 L125.1,249.3 L125.5,249.4 L125.9,249.5 L126.3,249.6 L126.7,249.8 L127.1,249.8 L127.5,249.9 L127.9,250.0 L128.3,250.2 L128.7,250.2 L129.1,250.1 L129.5,250.0 L129.9,250.0 L130.3,250.2 L130.7,250.3 L131.1,250.3 L131.5,250.3 L131.9,250.2 L132.3,250.2 L132.7,250.1 L133.1,250.1 L133.5,250.2 L133.9,250.2 L134.3,250.2 L134.7,250.1 L135.1,250.1 L135.5,250.0 L135.9,250.0 L136.3,250.1 L136.7,250.2 L137.1,250.3 L137.5,250.4 L137.9,250.4 L138.3,250.3 L138.7,250.2 L139.1,250.1 L139.5,250.1 L139.9,250.1 L140.3,250.1 L140.7,250.1 L141.1,250.1 L141.5,250.1 L141.9,250.1 L142.3,250.0 L142.7,249.9 L143.1,249.9 L143.5,249.9 L143.9,250.0 L144.3,250.0 L144.7,250.0 L145.1,249.9 L145.5,250.0 L145.9,250.1 L146.3,250.2 L146.7,250.3 L147.1,250.2 L147.5,250.2 L147.9,250.1 L148.3,250.1 L148.7,250.0 L149.1,250.0 L149.5,250.0 L149.9,250.0 L150.3,250.0 L150.7,249.9 L151.1,249.8 L151.5,249.8 L151.9,249.9 L152.3,250.0 L152.7,250.0 L153.1,250.0 L153.5,250.0 L153.9,250.0 L154.3,250.1 L154.7,250.1 L155.1,250.1 L155.5,250.0 L155.9,250.1 L156.3,250.1 L156.7,250.1 L157.1,249.9 L157.5,249.9 L157.9,249.8 L158.3,249.7 L158.7,249.5 L159.1,249.3 L159.5,249.1 L159.9,249.0 L160.3,248.8 L160.7,248.5 L161.1,248.3 L161.5,248.2 L161.9,248.2 L162.3,248.2 L162.7,248.3 L163.1,248.5 L163.5,248.6 L163.9,248.8 L164.3,248.9 L164.7,248.9 L165.1,249.0 L165.5,249.0 L165.9,249.1 L166.3,249.0 L166.7,248.8 L167.1,248.6 L167.5,248.5 L167.9,248.3 L168.3,248.1 L168.7,247.8 L169.1,247.5 L169.5,247.0 L169.9,246.6 L170.3,246.3 L170.7,246.2 L171.1,246.3 L171.5,246.6 L171.9,246.9 L172.3,247.2 L172.7,247.4 L173.1,247.7 L173.5,248.1 L173.9,248.5 L174.3,248.8 L174.7,248.8 L175.1,248.8 L175.5,248.8 L175.9,248.9 L176.3,248.8 L176.7,248.7 L177.1,248.5 L177.5,248.3 L177.9,248.0 L178.3,247.8 L178.7,247.5 L179.1,247.1 L179.5,246.5 L179.9,246.0 L180.3,245.6 L180.7,245.1 L181.1,244.6 L181.5,244.1 L181.9,243.7 L182.3,243.3 L182.7,243.1 L183.1,242.9 L183.5,242.8 L183.8,242.7 L183.9,242.7 L184.3,242.7 L184.7,242.9 L185.1,243.0 L185.5,243.3 L185.9,243.6 L186.3,244.0 L186.7,244.3 L187.1,244.7 L187.5,245.2 L187.9,245.6 L188.3,246.1 L188.7,246.4 L189.1,246.8 L189.5,247.0 L189.9,247.1 L190.3,247.2 L190.7,247.2 L191.1,247.3 L191.5,247.5 L191.9,247.6 L192.3,247.7 L192.7,247.8 L193.1,247.9 L193.5,248.1 L193.9,248.3 L194.3,248.4 L194.7,248.4 L195.1,248.2 L195.5,247.9 L195.9,247.8 L196.3,247.7 L196.7,247.7 L197.1,247.6 L197.5,247.5 L197.9,247.4 L198.3,247.3 L198.7,247.2 L199.1,247.0 L199.5,246.8 L199.9,246.7 L200.3,246.6 L200.7,246.5 L201.1,246.3 L201.5,246.2 L201.9,246.3 L202.3,246.4 L202.7,246.4 L203.1,246.2 L203.5,246.0 L203.9,245.7 L204.3,245.4 L204.7,245.1 L205.1,244.9 L205.5,244.5 L205.9,244.0 L206.3,243.4 L206.7,242.9 L207.1,242.3 L207.5,241.9 L207.9,241.5 L208.3,241.0 L208.7,240.6 L209.1,240.1 L209.5,239.5 L209.9,239.0 L210.3,238.6 L210.7,238.1 L211.1,237.2 L211.5,236.0 L211.9,234.7 L212.3,233.4 L212.7,232.2 L213.1,231.5 L213.5,231.5 L213.5,231.4 L213.9,232.1 L214.3,233.2 L214.7,234.8 L215.1,236.2 L215.5,237.6 L215.9,238.5 L216.3,239.2 L216.7,239.5 L217.1,239.7 L217.5,239.9 L217.9,240.1 L218.3,240.2 L218.7,240.1 L219.1,240.1 L219.5,240.2 L219.9,240.5 L220.3,240.7 L220.7,241.0 L221.1,241.0 L221.5,241.0 L221.9,240.7 L222.3,240.1 L222.7,239.0 L223.1,237.5 L223.5,235.5 L223.9,233.0 L224.3,230.5 L224.7,228.3 L225.1,227.0 L225.2,226.8 L225.2,226.8 L225.5,227.3 L225.9,229.1 L226.3,231.8 L226.7,234.5 L227.1,237.0 L227.5,239.1 L227.9,240.8 L228.3,242.0 L228.7,242.9 L229.1,243.5 L229.5,244.0 L229.9,244.3 L230.3,244.5 L230.7,244.6 L231.1,244.8 L231.5,244.9 L231.9,244.9 L232.3,244.9 L232.7,244.9 L233.1,245.0 L233.5,245.1 L233.9,245.3 L234.3,245.7 L234.7,245.9 L235.1,246.2 L235.5,246.3 L235.9,246.5 L236.3,246.7 L236.7,246.9 L237.1,247.0 L237.5,247.0 L237.9,247.0 L238.3,247.0 L238.7,247.0 L239.1,247.1 L239.5,247.1 L239.9,247.0 L240.3,247.0 L240.7,247.0 L241.1,247.1 L241.5,247.0 L241.9,247.0 L242.3,246.9 L242.7,247.0 L243.1,247.1 L243.5,247.1 L243.9,247.0 L244.3,246.9 L244.7,246.7 L245.1,246.8 L245.5,246.9 L245.9,247.1 L246.3,247.2 L246.7,247.1 L247.1,247.1 L247.5,247.0 L247.9,247.0 L248.3,246.9 L248.7,246.9 L249.1,246.9 L249.5,247.0 L249.9,247.0 L250.3,247.0 L250.7,246.8 L251.1,246.6 L251.5,246.4 L251.9,246.3 L252.3,246.1 L252.7,245.9 L253.1,245.8 L253.5,245.7 L253.9,245.6 L254.3,245.4 L254.7,245.3 L255.1,245.0 L255.5,244.5 L255.9,243.8 L256.3,242.9 L256.7,241.7 L257.1,240.0 L257.5,237.9 L257.9,235.5 L258.3,232.9 L258.7,230.7 L259.1,229.1 L259.5,228.5 L259.5,228.4 L259.9,229.0 L260.3,230.6 L260.7,232.9 L261.1,235.4 L261.5,237.8 L261.9,239.9 L262.3,241.5 L262.7,242.6 L263.1,243.1 L263.5,243.5 L263.9,243.8 L264.3,244.2 L264.7,244.6 L265.1,244.9 L265.5,245.0 L265.9,245.1 L266.3,245.3 L266.7,245.5 L267.1,245.8 L267.5,246.1 L267.9,246.4 L268.3,246.8 L268.7,247.1 L269.1,247.1 L269.5,247.0 L269.9,246.6 L270.3,246.3 L270.7,245.9 L271.1,245.4 L271.5,244.8 L271.9,244.2 L272.3,243.4 L272.7,242.7 L273.1,242.0 L273.5,241.5 L273.9,241.2 L274.0,241.2 L274.3,241.4 L274.7,241.8 L275.1,242.3 L275.5,242.9 L275.9,243.6 L276.3,244.3 L276.7,244.9 L277.1,245.4 L277.5,245.6 L277.9,245.6 L278.3,245.4 L278.7,245.0 L279.1,244.5 L279.5,244.4 L279.9,244.9 L280.3,245.7 L280.7,246.4 L281.1,246.9 L281.5,247.3 L281.9,247.5 L282.3,247.6 L282.7,247.8 L283.1,247.8 L283.5,247.8 L283.9,247.9 L284.3,248.0 L284.7,248.2 L285.1,248.3 L285.5,248.5 L285.9,248.8 L286.3,249.0 L286.7,249.0 L287.1,248.7 L287.5,248.4 L287.9,248.0 L288.3,247.6 L288.7,247.0 L289.1,246.2 L289.5,245.0 L289.9,243.7 L290.3,242.3 L290.7,241.0 L291.1,239.7 L291.5,238.8 L291.9,238.4 L292.0,238.5 L292.3,238.8 L292.7,239.4 L293.1,240.4 L293.5,241.5 L293.9,242.8 L294.3,244.1 L294.7,245.2 L295.1,246.1 L295.5,246.7 L295.9,247.2 L296.3,247.5 L296.7,247.8 L297.1,247.9 L297.5,247.9 L297.9,247.9 L298.3,248.0 L298.7,248.1 L299.1,248.3 L299.5,248.4 L299.9,248.5 L300.3,248.7 L300.7,248.9 L301.1,249.0 L301.5,249.1 L301.9,249.1 L302.3,249.1 L302.7,249.1 L303.1,249.1 L303.5,249.1 L303.9,249.1 L304.3,249.0 L304.7,248.9 L305.1,248.9 L305.5,248.9 L305.9,248.9 L306.3,248.9 L306.7,248.9 L307.1,249.0 L307.5,249.1 L307.9,249.0 L308.3,248.9 L308.7,248.9 L309.1,249.0 L309.5,249.1 L309.9,249.1 L310.3,249.2 L310.7,249.2 L311.1,249.2 L311.5,249.2 L311.9,249.2 L312.3,249.2 L312.7,249.3 L313.1,249.3 L313.5,249.3 L313.9,249.3 L314.3,249.3 L314.7,249.4 L315.1,249.4 L315.5,249.4 L315.9,249.4 L316.3,249.4 L316.7,249.3 L317.1,249.2 L317.5,249.2 L317.9,249.2 L318.3,249.2 L318.7,249.2 L319.1,249.2 L319.5,249.3 L319.9,249.4 L320.3,249.3 L320.7,249.3 L321.1,249.3 L321.5,249.3 L321.9,249.3 L322.3,249.2 L322.7,249.1 L323.1,249.1 L323.5,249.1 L323.9,249.2 L324.3,249.2 L324.7,249.3 L325.1,249.4 L325.5,249.3 L325.9,249.4 L326.3,249.5 L326.7,249.6 L327.1,249.5 L327.5,249.5 L327.9,249.5 L328.3,249.5 L328.7,249.4 L329.1,249.4 L329.5,249.3 L329.9,249.3 L330.3,249.4 L330.7,249.4 L331.1,249.4 L331.5,249.3 L331.9,249.2 L332.3,249.2 L332.7,249.2 L333.1,249.4 L333.5,249.5 L333.9,249.5 L334.3,249.5 L334.7,249.5 L335.1,249.5 L335.5,249.4 L335.9,249.4 L336.3,249.5 L336.7,249.6 L337.1,249.5 L337.5,249.5 L337.9,249.4 L338.3,249.4 L338.7,249.5 L339.1,249.5 L339.5,249.5 L339.9,249.6 L340.3,249.6 L340.7,249.6 L341.1,249.6 L341.5,249.6 L341.9,249.6 L342.3,249.5 L342.7,249.5 L343.1,249.5 L343.5,249.5 L343.9,249.7 L344.3,249.8 L344.7,249.8 L345.1,249.8 L345.5,249.8 L345.9,249.8 L346.3,249.8 L346.7,249.8 L347.1,249.9 L347.5,249.9 L347.9,249.8 L348.3,249.7 L348.7,249.7 L349.1,249.6 L349.5,249.5 L349.9,249.5 L350.3,249.7 L350.7,249.8 L351.1,249.9 L351.5,250.0 L351.9,250.0 L352.3,249.9 L352.7,249.8 L353.1,249.7 L353.5,249.8 L353.9,249.8 L354.3,249.8 L354.7,249.7 L355.1,249.7 L355.5,249.7 L355.9,249.7 L356.3,249.7 L356.7,249.6 L357.1,249.6 L357.5,249.7 L357.9,249.8 L358.3,249.8 L358.7,249.9 L359.1,249.8 L359.5,249.8 L359.9,249.8 L360.3,249.8 L360.7,249.8 L361.1,249.9 L361.5,249.8 L361.9,249.8 L362.3,249.9 L362.7,250.0 L363.1,250.0 L363.5,249.9 L363.9,249.9 L364.3,249.9 L364.7,249.9 L365.1,249.9 L365.5,249.8 L365.9,249.8 L366.3,249.8 L366.7,249.9 L367.1,249.9 L367.5,249.9 L367.9,249.9 L368.3,249.9 L368.7,249.9 L369.1,250.0 L369.5,250.0 L369.9,250.0 L370.3,249.9 L370.7,249.8 L371.1,250.0 L371.5,250.1 L371.9,250.2 L372.3,250.2" fill="none" stroke="#48f808" stroke-width="2.15" stroke-linejoin="round" stroke-linecap="round"/>
<path d="M26.3,233.1 L26.7,232.8 L27.1,232.7 L27.5,232.6 L27.9,232.6 L28.3,232.5 L28.7,232.4 L29.1,232.3 L29.5,232.3 L29.9,232.2 L30.3,232.1 L30.7,232.0 L31.1,232.0 L31.5,232.2 L31.9,232.4 L32.3,232.5 L32.7,232.5 L33.1,232.6 L33.5,232.7 L33.9,232.9 L34.3,233.1 L34.7,233.2 L35.1,233.2 L35.5,233.2 L35.9,233.1 L36.3,233.0 L36.7,232.8 L37.1,232.7 L37.5,232.5 L37.9,232.2 L38.3,231.9 L38.7,231.6 L39.1,231.2 L39.5,230.9 L39.9,230.5 L40.3,230.2 L40.7,230.0 L41.1,229.9 L41.5,230.0 L41.6,230.1 L41.9,230.3 L42.3,230.5 L42.7,230.6 L43.1,230.7 L43.5,230.8 L43.9,231.1 L44.3,231.4 L44.7,231.7 L45.1,232.1 L45.5,232.5 L45.9,232.8 L46.3,233.0 L46.7,233.2 L47.1,233.4 L47.5,233.7 L47.9,234.0 L48.3,234.1 L48.7,234.1 L49.1,233.9 L49.5,233.7 L49.9,233.2 L50.3,232.2 L50.7,229.2 L51.1,223.3 L51.5,215.9 L51.8,213.8 L51.9,214.6 L52.3,221.3 L52.7,227.9 L53.1,231.5 L53.5,232.9 L53.9,233.3 L54.3,233.3 L54.7,233.1 L55.1,232.8 L55.5,232.3 L55.9,232.0 L56.3,231.6 L56.7,231.5 L57.1,231.4 L57.1,231.4 L57.5,231.4 L57.9,231.6 L58.3,232.0 L58.7,232.4 L59.1,232.8 L59.5,233.0 L59.9,233.0 L60.3,232.8 L60.7,232.5 L61.1,232.1 L61.5,231.6 L61.9,231.2 L62.3,230.9 L62.7,230.8 L62.8,230.8 L63.1,230.7 L63.5,230.8 L63.9,231.0 L64.3,231.4 L64.7,231.9 L65.1,232.4 L65.5,232.8 L65.9,233.1 L66.3,233.4 L66.7,233.6 L67.1,233.7 L67.5,233.8 L67.9,233.7 L68.3,233.5 L68.7,233.3 L69.1,233.1 L69.5,233.0 L69.9,233.0 L70.3,233.1 L70.7,233.1 L71.1,233.2 L71.5,233.1 L71.9,233.1 L72.3,233.0 L72.7,232.9 L73.1,233.0 L73.5,233.1 L73.9,233.2 L74.3,233.1 L74.7,233.1 L75.1,233.1 L75.5,233.2 L75.9,233.2 L76.3,233.2 L76.7,233.2 L77.1,233.1 L77.5,233.2 L77.9,233.2 L78.3,233.4 L78.7,233.4 L79.1,233.6 L79.5,233.6 L79.9,233.7 L80.3,233.7 L80.7,233.7 L81.1,233.7 L81.5,233.7 L81.9,233.7 L82.3,233.8 L82.7,233.8 L83.1,233.7 L83.5,233.5 L83.9,233.3 L84.3,233.0 L84.7,232.6 L85.1,232.1 L85.5,231.4 L85.9,230.4 L86.3,229.4 L86.7,228.1 L87.1,226.8 L87.5,225.3 L87.9,224.0 L88.2,223.0 L88.3,222.9 L88.7,222.4 L89.1,222.4 L89.5,222.9 L89.9,223.8 L90.3,225.1 L90.7,226.5 L91.1,227.8 L91.5,229.0 L91.9,230.2 L92.3,231.1 L92.7,231.9 L93.1,232.6 L93.5,233.1 L93.9,233.5 L94.3,233.5 L94.7,233.5 L95.1,233.6 L95.5,233.8 L95.9,234.0 L96.3,234.1 L96.7,234.1 L97.1,234.0 L97.5,234.0 L97.9,233.9 L98.3,234.0 L98.7,234.0 L99.1,234.1 L99.5,234.0 L99.9,233.8 L100.3,233.5 L100.7,233.4 L101.1,233.3 L101.5,233.4 L101.9,233.4 L102.3,233.5 L102.7,233.4 L103.1,233.4 L103.5,233.3 L103.9,233.4 L104.3,233.6 L104.7,233.7 L105.1,233.9 L105.5,233.9 L105.9,234.0 L106.3,234.0 L106.7,233.9 L107.1,233.9 L107.5,234.0 L107.9,234.1 L108.3,234.3 L108.7,234.3 L109.1,234.2 L109.5,234.1 L109.9,234.1 L110.3,234.1 L110.7,234.2 L111.1,234.1 L111.5,234.1 L111.9,234.0 L112.3,234.0 L112.7,234.0 L113.1,233.9 L113.5,233.9 L113.9,233.9 L114.3,233.9 L114.7,233.9 L115.1,233.9 L115.5,233.8 L115.9,233.7 L116.3,233.6 L116.7,233.5 L117.1,233.5 L117.5,233.7 L117.9,233.6 L118.3,233.7 L118.7,233.6 L119.1,233.6 L119.5,233.7 L119.9,233.9 L120.3,234.1 L120.7,234.2 L121.1,234.1 L121.5,234.1 L121.9,234.0 L122.3,233.9 L122.7,233.8 L123.1,233.7 L123.5,233.6 L123.9,233.5 L124.3,233.4 L124.7,233.3 L125.1,233.2 L125.5,233.1 L125.9,233.2 L126.3,233.2 L126.7,233.3 L127.1,233.4 L127.5,233.4 L127.9,233.5 L128.3,233.6 L128.7,233.7 L129.1,233.8 L129.5,233.8 L129.9,234.0 L130.3,234.0 L130.7,234.0 L131.1,233.9 L131.5,233.8 L131.9,233.8 L132.3,233.8 L132.7,233.8 L133.1,233.8 L133.5,233.8 L133.9,233.8 L134.3,233.8 L134.7,233.8 L135.1,233.9 L135.5,233.9 L135.9,233.9 L136.3,233.8 L136.7,233.8 L137.1,233.8 L137.5,233.8 L137.9,233.9 L138.3,233.9 L138.7,233.9 L139.1,233.9 L139.5,233.9 L139.9,233.8 L140.3,233.7 L140.7,233.5 L141.1,233.3 L141.5,233.1 L141.9,233.0 L142.3,232.9 L142.7,232.9 L143.1,232.8 L143.5,232.7 L143.9,232.7 L144.3,232.9 L144.7,233.1 L145.1,233.3 L145.5,233.4 L145.9,233.4 L146.3,233.4 L146.7,233.5 L147.1,233.6 L147.5,233.6 L147.9,233.6 L148.3,233.5 L148.7,233.5 L149.1,233.4 L149.5,233.4 L149.9,233.4 L150.3,233.4 L150.7,233.5 L151.1,233.5 L151.5,233.6 L151.9,233.5 L152.3,233.5 L152.7,233.4 L153.1,233.4 L153.5,233.4 L153.9,233.5 L154.3,233.6 L154.7,233.7 L155.1,233.7 L155.5,233.7 L155.9,233.6 L156.3,233.5 L156.7,233.5 L157.1,233.5 L157.5,233.4 L157.9,233.4 L158.3,233.3 L158.7,233.2 L159.1,233.1 L159.5,232.7 L159.9,232.4 L160.3,232.0 L160.7,231.8 L161.1,231.5 L161.5,231.3 L161.9,231.1 L162.3,231.1 L162.7,231.1 L163.1,231.3 L163.5,231.6 L163.9,231.9 L164.3,232.2 L164.7,232.3 L165.1,232.3 L165.5,232.2 L165.9,232.1 L166.3,232.0 L166.7,231.9 L167.1,231.8 L167.5,231.7 L167.9,231.5 L168.3,231.2 L168.7,230.9 L169.1,230.5 L169.5,230.1 L169.9,229.6 L170.3,229.3 L170.7,229.2 L171.1,229.3 L171.5,229.6 L171.9,230.0 L172.3,230.4 L172.7,230.7 L173.1,231.0 L173.5,231.3 L173.9,231.7 L174.3,231.9 L174.7,232.1 L175.1,232.1 L175.5,232.2 L175.9,232.1 L176.3,231.9 L176.7,231.7 L177.1,231.6 L177.5,231.4 L177.9,231.2 L178.3,231.0 L178.7,230.6 L179.1,230.3 L179.5,229.9 L179.9,229.4 L180.3,228.9 L180.7,228.5 L181.1,228.1 L181.5,227.6 L181.9,227.1 L182.3,226.6 L182.7,226.3 L183.1,225.9 L183.5,225.8 L183.8,225.7 L183.9,225.8 L184.3,225.9 L184.7,226.1 L185.1,226.3 L185.5,226.6 L185.9,227.0 L186.3,227.4 L186.7,227.9 L187.1,228.4 L187.5,228.9 L187.9,229.4 L188.3,229.8 L188.7,230.1 L189.1,230.4 L189.5,230.7 L189.9,230.9 L190.3,231.1 L190.7,231.2 L191.1,231.3 L191.5,231.4 L191.9,231.6 L192.3,231.7 L192.7,231.8 L193.1,232.0 L193.5,232.1 L193.9,232.3 L194.3,232.4 L194.7,232.6 L195.1,232.7 L195.5,232.7 L195.9,232.6 L196.3,232.5 L196.7,232.4 L197.1,232.3 L197.5,232.2 L197.9,232.1 L198.3,232.0 L198.7,231.9 L199.1,231.8 L199.5,231.7 L199.9,231.5 L200.3,231.4 L200.7,231.4 L201.1,231.3 L201.5,231.2 L201.9,231.2 L202.3,231.2 L202.7,231.2 L203.1,231.2 L203.5,231.1 L203.9,231.1 L204.3,230.9 L204.7,230.8 L205.1,230.5 L205.5,230.1 L205.9,229.5 L206.3,229.1 L206.7,228.9 L207.1,228.7 L207.5,228.5 L207.9,228.2 L208.3,227.9 L208.7,227.5 L209.1,227.1 L209.5,226.6 L209.9,226.3 L210.3,226.0 L210.7,225.5 L211.1,224.9 L211.5,224.1 L211.9,223.3 L212.3,222.4 L212.7,221.6 L213.1,221.0 L213.5,220.9 L213.5,220.7 L213.9,221.1 L214.3,222.1 L214.7,223.5 L215.1,224.7 L215.5,225.8 L215.9,226.7 L216.3,227.3 L216.7,227.8 L217.1,228.2 L217.5,228.5 L217.9,228.7 L218.3,228.7 L218.7,228.7 L219.1,228.6 L219.5,228.7 L219.9,228.9 L220.3,228.9 L220.7,228.8 L221.1,228.5 L221.5,228.1 L221.9,227.6 L222.3,226.9 L222.7,225.7 L223.1,224.0 L223.5,221.8 L223.9,219.2 L224.3,216.6 L224.7,214.3 L225.1,212.9 L225.2,212.9 L225.2,212.9 L225.5,213.3 L225.9,215.0 L226.3,217.5 L226.7,220.2 L227.1,222.7 L227.5,224.8 L227.9,226.5 L228.3,227.8 L228.7,228.8 L229.1,229.4 L229.5,229.7 L229.9,229.9 L230.3,230.0 L230.7,230.2 L231.1,230.5 L231.5,230.7 L231.9,230.8 L232.3,230.8 L232.7,230.9 L233.1,231.0 L233.5,231.0 L233.9,230.9 L234.3,230.9 L234.7,231.0 L235.1,231.1 L235.5,231.3 L235.9,231.4 L236.3,231.6 L236.7,231.7 L237.1,231.7 L237.5,231.7 L237.9,231.7 L238.3,231.8 L238.7,231.9 L239.1,232.1 L239.5,232.2 L239.9,232.2 L240.3,232.1 L240.7,232.0 L241.1,231.9 L241.5,231.9 L241.9,232.0 L242.3,232.1 L242.7,232.2 L243.1,232.3 L243.5,232.3 L243.9,232.2 L244.3,232.2 L244.7,232.1 L245.1,232.1 L245.5,232.1 L245.9,232.1 L246.3,232.2 L246.7,232.2 L247.1,232.1 L247.5,231.9 L247.9,231.8 L248.3,231.8 L248.7,231.9 L249.1,232.0 L249.5,232.1 L249.9,232.1 L250.3,232.1 L250.7,231.9 L251.1,231.8 L251.5,231.8 L251.9,231.7 L252.3,231.6 L252.7,231.6 L253.1,231.5 L253.5,231.4 L253.9,231.3 L254.3,231.1 L254.7,230.9 L255.1,230.5 L255.5,230.0 L255.9,229.4 L256.3,228.4 L256.7,227.1 L257.1,225.4 L257.5,223.4 L257.9,221.2 L258.3,218.9 L258.7,216.6 L259.1,215.0 L259.5,214.4 L259.5,214.5 L259.9,215.1 L260.3,216.7 L260.7,218.9 L261.1,221.2 L261.5,223.3 L261.9,225.2 L262.3,226.9 L262.7,228.2 L263.1,229.2 L263.5,229.7 L263.9,230.0 L264.3,230.3 L264.7,230.5 L265.1,230.6 L265.5,230.8 L265.9,231.0 L266.3,231.1 L266.7,231.2 L267.1,231.2 L267.5,231.1 L267.9,231.1 L268.3,231.2 L268.7,231.3 L269.1,231.3 L269.5,231.3 L269.9,231.2 L270.3,231.0 L270.7,230.9 L271.1,230.5 L271.5,230.2 L271.9,229.7 L272.3,229.2 L272.7,228.7 L273.1,228.3 L273.5,228.1 L273.9,228.0 L274.0,228.0 L274.3,228.1 L274.7,228.4 L275.1,228.8 L275.5,229.3 L275.9,229.8 L276.3,230.3 L276.7,230.6 L277.1,230.8 L277.5,231.0 L277.9,231.2 L278.3,231.2 L278.7,231.1 L279.1,230.8 L279.5,230.8 L279.9,231.0 L280.3,231.5 L280.7,231.8 L281.1,232.1 L281.5,232.2 L281.9,232.2 L282.3,232.3 L282.7,232.5 L283.1,232.8 L283.5,233.0 L283.9,233.1 L284.3,233.2 L284.7,233.1 L285.1,233.2 L285.5,233.2 L285.9,233.4 L286.3,233.3 L286.7,233.2 L287.1,232.9 L287.5,232.6 L287.9,232.3 L288.3,232.0 L288.7,231.5 L289.1,230.7 L289.5,229.9 L289.9,228.8 L290.3,227.7 L290.7,226.5 L291.1,225.5 L291.5,224.7 L291.9,224.4 L292.0,224.5 L292.3,224.6 L292.7,225.1 L293.1,225.8 L293.5,226.7 L293.9,227.7 L294.3,228.8 L294.7,229.7 L295.1,230.4 L295.5,231.0 L295.9,231.4 L296.3,231.7 L296.7,231.9 L297.1,232.1 L297.5,232.2 L297.9,232.3 L298.3,232.4 L298.7,232.4 L299.1,232.5 L299.5,232.5 L299.9,232.5 L300.3,232.6 L300.7,232.7 L301.1,232.8 L301.5,232.9 L301.9,232.9 L302.3,233.0 L302.7,233.0 L303.1,233.1 L303.5,233.1 L303.9,233.1 L304.3,233.1 L304.7,233.1 L305.1,233.1 L305.5,233.1 L305.9,233.1 L306.3,233.1 L306.7,233.0 L307.1,233.0 L307.5,233.1 L307.9,233.2 L308.3,233.2 L308.7,233.1 L309.1,233.1 L309.5,233.1 L309.9,233.0 L310.3,233.0 L310.7,233.0 L311.1,233.1 L311.5,233.2 L311.9,233.3 L312.3,233.3 L312.7,233.2 L313.1,233.1 L313.5,233.0 L313.9,233.0 L314.3,233.0 L314.7,233.0 L315.1,233.1 L315.5,233.1 L315.9,233.3 L316.3,233.3 L316.7,233.2 L317.1,233.2 L317.5,233.1 L317.9,233.2 L318.3,233.2 L318.7,233.1 L319.1,233.1 L319.5,233.0 L319.9,233.0 L320.3,233.1 L320.7,233.1 L321.1,233.1 L321.5,233.2 L321.9,233.2 L322.3,233.2 L322.7,233.2 L323.1,233.1 L323.5,233.1 L323.9,233.1 L324.3,233.1 L324.7,233.1 L325.1,233.1 L325.5,232.9 L325.9,233.0 L326.3,232.9 L326.7,233.0 L327.1,232.8 L327.5,232.9 L327.9,232.9 L328.3,233.0 L328.7,233.0 L329.1,233.0 L329.5,232.9 L329.9,232.9 L330.3,233.0 L330.7,233.1 L331.1,233.2 L331.5,233.2 L331.9,233.1 L332.3,233.1 L332.7,233.1 L333.1,233.2 L333.5,233.3 L333.9,233.3 L334.3,233.2 L334.7,233.1 L335.1,233.1 L335.5,233.1 L335.9,233.0 L336.3,233.0 L336.7,233.1 L337.1,233.1 L337.5,233.1 L337.9,233.1 L338.3,233.1 L338.7,233.1 L339.1,233.1 L339.5,233.1 L339.9,233.2 L340.3,233.2 L340.7,233.1 L341.1,233.1 L341.5,233.2 L341.9,233.2 L342.3,233.2 L342.7,233.1 L343.1,233.2 L343.5,233.2 L343.9,233.3 L344.3,233.2 L344.7,233.2 L345.1,233.2 L345.5,233.3 L345.9,233.2 L346.3,233.1 L346.7,233.1 L347.1,233.2 L347.5,233.2 L347.9,233.1 L348.3,233.1 L348.7,233.1 L349.1,233.1 L349.5,233.1 L349.9,233.1 L350.3,233.1 L350.7,233.1 L351.1,233.1 L351.5,233.2 L351.9,233.2 L352.3,233.3 L352.7,233.3 L353.1,233.3 L353.5,233.3 L353.9,233.4 L354.3,233.4 L354.7,233.5 L355.1,233.5 L355.5,233.4 L355.9,233.3 L356.3,233.3 L356.7,233.3 L357.1,233.3 L357.5,233.1 L357.9,233.0 L358.3,233.0 L358.7,233.2 L359.1,233.3 L359.5,233.3 L359.9,233.2 L360.3,233.3 L360.7,233.3 L361.1,233.3 L361.5,233.2 L361.9,233.1 L362.3,233.0 L362.7,232.9 L363.1,233.0 L363.5,233.0 L363.9,233.2 L364.3,233.3 L364.7,233.4 L365.1,233.3 L365.5,233.3 L365.9,233.3 L366.3,233.3 L366.7,233.3 L367.1,233.3 L367.5,233.2 L367.9,233.2 L368.3,233.3 L368.7,233.4 L369.1,233.4 L369.5,233.4 L369.9,233.3 L370.3,233.2 L370.7,233.1 L371.1,233.1 L371.5,233.1 L371.9,233.1 L372.3,233.2" fill="none" stroke="#12a070" stroke-width="2.15" stroke-linejoin="round" stroke-linecap="round"/>
<path d="M26.3,214.5 L26.7,214.4 L27.1,214.3 L27.5,214.1 L27.9,214.1 L28.3,214.1 L28.7,214.1 L29.1,214.2 L29.5,214.1 L29.9,214.0 L30.3,213.9 L30.7,213.9 L31.1,213.9 L31.5,214.0 L31.9,214.1 L32.3,214.3 L32.7,214.4 L33.1,214.4 L33.5,214.3 L33.9,214.3 L34.3,214.4 L34.7,214.6 L35.1,214.7 L35.5,214.7 L35.9,214.5 L36.3,214.4 L36.7,214.4 L37.1,214.3 L37.5,214.2 L37.9,214.1 L38.3,214.0 L38.7,213.7 L39.1,213.4 L39.5,213.2 L39.9,213.1 L40.3,213.1 L40.7,213.0 L41.1,213.0 L41.5,212.9 L41.6,213.0 L41.9,213.0 L42.3,213.0 L42.7,213.1 L43.1,213.2 L43.5,213.3 L43.9,213.4 L44.3,213.6 L44.7,213.9 L45.1,214.2 L45.5,214.5 L45.9,214.6 L46.3,214.6 L46.7,214.6 L47.1,214.7 L47.5,214.9 L47.9,215.0 L48.3,215.1 L48.7,215.1 L49.1,215.0 L49.5,214.8 L49.9,214.5 L50.3,213.9 L50.7,212.2 L51.1,208.7 L51.5,204.3 L51.8,203.0 L51.9,203.4 L52.3,207.4 L52.7,211.3 L53.1,213.4 L53.5,214.3 L53.9,214.8 L54.3,214.9 L54.7,214.9 L55.1,214.8 L55.5,214.7 L55.9,214.7 L56.3,214.6 L56.7,214.5 L57.1,214.5 L57.1,214.6 L57.5,214.7 L57.9,214.7 L58.3,214.7 L58.7,214.8 L59.1,215.0 L59.5,215.1 L59.9,215.1 L60.3,215.0 L60.7,214.8 L61.1,214.6 L61.5,214.5 L61.9,214.3 L62.3,214.1 L62.7,214.1 L62.8,214.1 L63.1,214.2 L63.5,214.2 L63.9,214.3 L64.3,214.4 L64.7,214.5 L65.1,214.6 L65.5,214.7 L65.9,214.8 L66.3,214.8 L66.7,214.9 L67.1,214.9 L67.5,215.0 L67.9,215.1 L68.3,215.1 L68.7,215.1 L69.1,215.1 L69.5,215.2 L69.9,215.2 L70.3,215.1 L70.7,214.9 L71.1,214.9 L71.5,215.0 L71.9,215.0 L72.3,215.0 L72.7,215.0 L73.1,215.0 L73.5,215.1 L73.9,215.1 L74.3,215.1 L74.7,215.0 L75.1,215.1 L75.5,215.1 L75.9,215.2 L76.3,215.2 L76.7,215.2 L77.1,215.1 L77.5,215.0 L77.9,214.9 L78.3,214.9 L78.7,215.0 L79.1,215.0 L79.5,215.0 L79.9,215.0 L80.3,215.1 L80.7,215.2 L81.1,215.2 L81.5,215.2 L81.9,215.2 L82.3,215.3 L82.7,215.3 L83.1,215.3 L83.5,215.2 L83.9,215.1 L84.3,215.0 L84.7,214.9 L85.1,214.6 L85.5,214.3 L85.9,213.9 L86.3,213.5 L86.7,212.8 L87.1,212.3 L87.5,211.8 L87.9,211.5 L88.2,211.3 L88.3,211.2 L88.7,210.8 L89.1,210.7 L89.5,210.7 L89.9,211.1 L90.3,211.5 L90.7,212.0 L91.1,212.5 L91.5,213.2 L91.9,213.9 L92.3,214.4 L92.7,214.7 L93.1,214.9 L93.5,215.0 L93.9,215.0 L94.3,215.1 L94.7,215.2 L95.1,215.4 L95.5,215.4 L95.9,215.4 L96.3,215.5 L96.7,215.5 L97.1,215.5 L97.5,215.5 L97.9,215.4 L98.3,215.4 L98.7,215.4 L99.1,215.4 L99.5,215.3 L99.9,215.3 L100.3,215.3 L100.7,215.4 L101.1,215.4 L101.5,215.5 L101.9,215.5 L102.3,215.6 L102.7,215.5 L103.1,215.4 L103.5,215.3 L103.9,215.3 L104.3,215.5 L104.7,215.7 L105.1,215.8 L105.5,215.8 L105.9,215.7 L106.3,215.6 L106.7,215.6 L107.1,215.5 L107.5,215.5 L107.9,215.5 L108.3,215.5 L108.7,215.5 L109.1,215.5 L109.5,215.5 L109.9,215.6 L110.3,215.5 L110.7,215.5 L111.1,215.5 L111.5,215.5 L111.9,215.5 L112.3,215.5 L112.7,215.4 L113.1,215.4 L113.5,215.3 L113.9,215.4 L114.3,215.5 L114.7,215.5 L115.1,215.4 L115.5,215.4 L115.9,215.4 L116.3,215.5 L116.7,215.5 L117.1,215.6 L117.5,215.6 L117.9,215.6 L118.3,215.4 L118.7,215.3 L119.1,215.3 L119.5,215.4 L119.9,215.5 L120.3,215.6 L120.7,215.6 L121.1,215.4 L121.5,215.3 L121.9,215.2 L122.3,215.3 L122.7,215.3 L123.1,215.3 L123.5,215.3 L123.9,215.3 L124.3,215.3 L124.7,215.3 L125.1,215.2 L125.5,215.0 L125.9,215.0 L126.3,215.0 L126.7,215.1 L127.1,215.2 L127.5,215.4 L127.9,215.5 L128.3,215.6 L128.7,215.6 L129.1,215.6 L129.5,215.5 L129.9,215.4 L130.3,215.4 L130.7,215.5 L131.1,215.6 L131.5,215.6 L131.9,215.6 L132.3,215.6 L132.7,215.6 L133.1,215.5 L133.5,215.5 L133.9,215.5 L134.3,215.5 L134.7,215.5 L135.1,215.5 L135.5,215.5 L135.9,215.5 L136.3,215.6 L136.7,215.7 L137.1,215.7 L137.5,215.7 L137.9,215.6 L138.3,215.5 L138.7,215.5 L139.1,215.7 L139.5,215.7 L139.9,215.6 L140.3,215.5 L140.7,215.4 L141.1,215.5 L141.5,215.4 L141.9,215.4 L142.3,215.4 L142.7,215.4 L143.1,215.3 L143.5,215.3 L143.9,215.3 L144.3,215.4 L144.7,215.5 L145.1,215.6 L145.5,215.5 L145.9,215.4 L146.3,215.4 L146.7,215.4 L147.1,215.4 L147.5,215.4 L147.9,215.3 L148.3,215.3 L148.7,215.3 L149.1,215.5 L149.5,215.6 L149.9,215.6 L150.3,215.5 L150.7,215.5 L151.1,215.4 L151.5,215.5 L151.9,215.5 L152.3,215.6 L152.7,215.6 L153.1,215.6 L153.5,215.4 L153.9,215.4 L154.3,215.4 L154.7,215.5 L155.1,215.7 L155.5,215.8 L155.9,215.7 L156.3,215.6 L156.7,215.4 L157.1,215.4 L157.5,215.3 L157.9,215.3 L158.3,215.2 L158.7,215.1 L159.1,214.8 L159.5,214.5 L159.9,214.3 L160.3,214.1 L160.7,214.0 L161.1,213.9 L161.5,213.8 L161.9,213.9 L162.3,213.9 L162.7,214.1 L163.1,214.2 L163.5,214.3 L163.9,214.4 L164.3,214.5 L164.7,214.4 L165.1,214.4 L165.5,214.4 L165.9,214.4 L166.3,214.4 L166.7,214.3 L167.1,214.3 L167.5,214.2 L167.9,214.1 L168.3,213.9 L168.7,213.5 L169.1,213.1 L169.5,212.7 L169.9,212.3 L170.3,212.1 L170.7,212.0 L171.1,212.1 L171.5,212.3 L171.9,212.6 L172.3,213.0 L172.7,213.4 L173.1,213.7 L173.5,213.9 L173.9,214.0 L174.3,214.0 L174.7,214.2 L175.1,214.3 L175.5,214.4 L175.9,214.3 L176.3,214.3 L176.7,214.1 L177.1,214.0 L177.5,213.9 L177.9,213.7 L178.3,213.4 L178.7,213.0 L179.1,212.8 L179.5,212.5 L179.9,212.2 L180.3,211.7 L180.7,211.1 L181.1,210.5 L181.5,210.1 L181.9,209.7 L182.3,209.4 L182.7,209.2 L183.1,208.9 L183.5,208.8 L183.8,208.7 L183.9,208.7 L184.3,208.7 L184.7,208.8 L185.1,209.0 L185.5,209.3 L185.9,209.7 L186.3,210.1 L186.7,210.5 L187.1,210.9 L187.5,211.3 L187.9,211.7 L188.3,212.0 L188.7,212.2 L189.1,212.3 L189.5,212.5 L189.9,212.7 L190.3,212.9 L190.7,212.9 L191.1,212.9 L191.5,212.9 L191.9,213.1 L192.3,213.2 L192.7,213.6 L193.1,213.7 L193.5,213.8 L193.9,213.8 L194.3,213.9 L194.7,213.9 L195.1,214.0 L195.5,214.1 L195.9,214.1 L196.3,214.0 L196.7,213.9 L197.1,213.8 L197.5,213.8 L197.9,213.8 L198.3,213.8 L198.7,213.7 L199.1,213.6 L199.5,213.6 L199.9,213.6 L200.3,213.6 L200.7,213.5 L201.1,213.3 L201.5,213.2 L201.9,213.2 L202.3,213.1 L202.7,212.9 L203.1,212.8 L203.5,212.7 L203.9,212.7 L204.3,212.6 L204.7,212.6 L205.1,212.5 L205.5,212.4 L205.9,212.3 L206.3,212.1 L206.7,212.0 L207.1,211.9 L207.5,211.7 L207.9,211.3 L208.3,211.0 L208.7,210.8 L209.1,210.6 L209.5,210.4 L209.9,210.1 L210.3,209.6 L210.7,209.0 L211.1,208.1 L211.5,207.1 L211.9,206.0 L212.3,204.8 L212.7,203.7 L213.1,202.8 L213.5,202.5 L213.5,202.5 L213.9,202.8 L214.3,203.7 L214.7,205.0 L215.1,206.4 L215.5,207.6 L215.9,208.7 L216.3,209.4 L216.7,209.9 L217.1,210.2 L217.5,210.4 L217.9,210.6 L218.3,210.8 L218.7,210.8 L219.1,210.9 L219.5,210.8 L219.9,210.7 L220.3,210.5 L220.7,210.3 L221.1,210.0 L221.5,209.6 L221.9,209.0 L222.3,208.1 L222.7,206.8 L223.1,205.0 L223.5,202.7 L223.9,200.0 L224.3,197.3 L224.7,195.0 L225.1,193.7 L225.2,193.7 L225.2,193.7 L225.5,193.9 L225.9,195.4 L226.3,197.9 L226.7,200.7 L227.1,203.3 L227.5,205.6 L227.9,207.4 L228.3,208.6 L228.7,209.5 L229.1,209.9 L229.5,210.2 L229.9,210.5 L230.3,210.7 L230.7,210.9 L231.1,211.0 L231.5,211.1 L231.9,211.2 L232.3,211.2 L232.7,211.3 L233.1,211.3 L233.5,211.3 L233.9,211.3 L234.3,211.4 L234.7,211.5 L235.1,211.6 L235.5,211.8 L235.9,211.9 L236.3,212.0 L236.7,212.1 L237.1,212.1 L237.5,212.1 L237.9,212.3 L238.3,212.4 L238.7,212.6 L239.1,212.7 L239.5,212.7 L239.9,212.6 L240.3,212.6 L240.7,212.6 L241.1,212.6 L241.5,212.6 L241.9,212.6 L242.3,212.7 L242.7,212.6 L243.1,212.6 L243.5,212.6 L243.9,212.7 L244.3,212.8 L244.7,212.8 L245.1,212.6 L245.5,212.5 L245.9,212.4 L246.3,212.4 L246.7,212.5 L247.1,212.5 L247.5,212.5 L247.9,212.5 L248.3,212.3 L248.7,212.2 L249.1,212.2 L249.5,212.1 L249.9,212.2 L250.3,212.2 L250.7,212.2 L251.1,212.3 L251.5,212.3 L251.9,212.4 L252.3,212.3 L252.7,212.1 L253.1,211.9 L253.5,211.7 L253.9,211.7 L254.3,211.6 L254.7,211.5 L255.1,211.2 L255.5,210.6 L255.9,209.8 L256.3,208.7 L256.7,207.3 L257.1,205.5 L257.5,203.4 L257.9,201.1 L258.3,198.6 L258.7,196.3 L259.1,194.7 L259.5,194.0 L259.5,193.9 L259.9,194.5 L260.3,196.3 L260.7,198.6 L261.1,201.1 L261.5,203.6 L261.9,205.7 L262.3,207.5 L262.7,208.8 L263.1,209.7 L263.5,210.2 L263.9,210.7 L264.3,210.9 L264.7,211.2 L265.1,211.4 L265.5,211.6 L265.9,211.7 L266.3,211.7 L266.7,211.7 L267.1,211.7 L267.5,211.8 L267.9,211.9 L268.3,211.9 L268.7,211.9 L269.1,211.9 L269.5,211.8 L269.9,211.5 L270.3,211.2 L270.7,210.8 L271.1,210.3 L271.5,209.8 L271.9,209.2 L272.3,208.5 L272.7,207.8 L273.1,207.1 L273.5,206.4 L273.9,206.2 L274.0,206.2 L274.3,206.4 L274.7,206.8 L275.1,207.5 L275.5,208.3 L275.9,209.2 L276.3,210.0 L276.7,210.6 L277.1,211.1 L277.5,211.4 L277.9,211.7 L278.3,211.7 L278.7,211.5 L279.1,211.1 L279.5,210.8 L279.9,211.1 L280.3,211.7 L280.7,212.3 L281.1,212.8 L281.5,213.1 L281.9,213.3 L282.3,213.3 L282.7,213.3 L283.1,213.3 L283.5,213.3 L283.9,213.4 L284.3,213.4 L284.7,213.5 L285.1,213.6 L285.5,213.6 L285.9,213.5 L286.3,213.5 L286.7,213.5 L287.1,213.4 L287.5,213.2 L287.9,212.9 L288.3,212.4 L288.7,211.8 L289.1,210.8 L289.5,209.5 L289.9,208.1 L290.3,206.7 L290.7,205.3 L291.1,204.1 L291.5,203.1 L291.9,202.7 L292.0,202.6 L292.3,202.7 L292.7,203.3 L293.1,204.5 L293.5,205.9 L293.9,207.3 L294.3,208.6 L294.7,209.7 L295.1,210.7 L295.5,211.6 L295.9,212.1 L296.3,212.5 L296.7,212.8 L297.1,213.0 L297.5,213.4 L297.9,213.7 L298.3,214.1 L298.7,214.5 L299.1,214.8 L299.5,215.0 L299.9,215.3 L300.3,215.3 L300.7,215.3 L301.1,215.1 L301.5,215.0 L301.9,215.1 L302.3,215.3 L302.7,215.5 L303.1,215.6 L303.5,215.6 L303.9,215.6 L304.3,215.6 L304.7,215.6 L305.1,215.6 L305.5,215.5 L305.9,215.5 L306.3,215.6 L306.7,215.7 L307.1,215.7 L307.5,215.7 L307.9,215.7 L308.3,215.7 L308.7,215.8 L309.1,215.7 L309.5,215.5 L309.9,215.4 L310.3,215.4 L310.7,215.5 L311.1,215.6 L311.5,215.7 L311.9,215.8 L312.3,215.8 L312.7,215.9 L313.1,215.9 L313.5,215.9 L313.9,215.8 L314.3,215.7 L314.7,215.6 L315.1,215.7 L315.5,215.7 L315.9,215.8 L316.3,215.8 L316.7,215.8 L317.1,215.8 L317.5,215.9 L317.9,216.0 L318.3,216.0 L318.7,215.9 L319.1,215.8 L319.5,215.8 L319.9,215.9 L320.3,216.0 L320.7,216.1 L321.1,216.1 L321.5,216.1 L321.9,216.1 L322.3,216.1 L322.7,216.0 L323.1,215.9 L323.5,215.9 L323.9,216.0 L324.3,216.1 L324.7,216.1 L325.1,216.1 L325.5,216.2 L325.9,216.1 L326.3,216.0 L326.7,216.0 L327.1,216.1 L327.5,216.1 L327.9,216.0 L328.3,215.9 L328.7,215.9 L329.1,215.9 L329.5,216.0 L329.9,216.0 L330.3,216.0 L330.7,216.0 L331.1,215.9 L331.5,215.9 L331.9,216.0 L332.3,216.1 L332.7,216.1 L333.1,216.1 L333.5,216.0 L333.9,216.0 L334.3,215.9 L334.7,216.0 L335.1,216.1 L335.5,216.2 L335.9,216.2 L336.3,216.2 L336.7,216.3 L337.1,216.3 L337.5,216.3 L337.9,216.3 L338.3,216.2 L338.7,216.2 L339.1,216.2 L339.5,216.2 L339.9,216.3 L340.3,216.4 L340.7,216.3 L341.1,216.2 L341.5,216.1 L341.9,216.2 L342.3,216.2 L342.7,216.3 L343.1,216.3 L343.5,216.3 L343.9,216.3 L344.3,216.3 L344.7,216.4 L345.1,216.5 L345.5,216.5 L345.9,216.5 L346.3,216.3 L346.7,216.3 L347.1,216.3 L347.5,216.3 L347.9,216.3 L348.3,216.3 L348.7,216.3 L349.1,216.3 L349.5,216.4 L349.9,216.4 L350.3,216.3 L350.7,216.2 L351.1,216.1 L351.5,216.1 L351.9,216.2 L352.3,216.3 L352.7,216.4 L353.1,216.4 L353.5,216.3 L353.9,216.2 L354.3,216.1 L354.7,216.2 L355.1,216.2 L355.5,216.4 L355.9,216.5 L356.3,216.6 L356.7,216.5 L357.1,216.5 L357.5,216.4 L357.9,216.4 L358.3,216.4 L358.7,216.5 L359.1,216.6 L359.5,216.6 L359.9,216.7 L360.3,216.6 L360.7,216.6 L361.1,216.5 L361.5,216.5 L361.9,216.5 L362.3,216.5 L362.7,216.5 L363.1,216.6 L363.5,216.6 L363.9,216.5 L364.3,216.4 L364.7,216.4 L365.1,216.3 L365.5,216.3 L365.9,216.3 L366.3,216.4 L366.7,216.5 L367.1,216.7 L367.5,216.8 L367.9,216.8 L368.3,216.8 L368.7,216.8 L369.1,216.7 L369.5,216.7 L369.9,216.7 L370.3,216.7 L370.7,216.8 L371.1,216.9 L371.5,216.9 L371.9,216.9 L372.3,216.9" fill="none" stroke="#ff0822" stroke-width="2.2" stroke-linejoin="round" stroke-linecap="round"/>
<path d="M26.3,197.1 L26.7,196.5 L27.1,196.0 L27.5,195.5 L27.9,195.1 L28.3,194.7 L28.7,194.3 L29.1,193.8 L29.5,193.5 L29.9,193.3 L30.3,193.2 L30.7,193.2 L31.1,193.2 L31.5,193.3 L31.9,193.5 L32.3,194.0 L32.7,194.4 L33.1,194.8 L33.5,195.1 L33.9,195.5 L34.3,195.9 L34.7,196.3 L35.1,196.6 L35.5,196.9 L35.9,196.9 L36.3,196.9 L36.7,196.8 L37.1,196.7 L37.5,196.5 L37.9,196.2 L38.3,195.8 L38.7,195.4 L39.1,195.2 L39.5,195.0 L39.9,194.6 L40.3,194.2 L40.7,193.8 L41.1,193.7 L41.5,193.8 L41.6,193.8 L41.9,193.9 L42.3,194.2 L42.7,194.6 L43.1,194.9 L43.5,195.2 L43.9,195.6 L44.3,196.2 L44.7,196.7 L45.1,197.3 L45.5,197.7 L45.9,198.0 L46.3,198.3 L46.7,198.6 L47.1,199.0 L47.5,199.2 L47.9,199.4 L48.3,199.3 L48.7,199.1 L49.1,198.6 L49.5,197.9 L49.9,196.5 L50.3,193.6 L50.7,187.7 L51.1,177.1 L51.5,163.6 L51.8,159.8 L51.9,161.2 L52.3,173.7 L52.7,185.5 L53.1,192.3 L53.5,195.6 L53.9,197.1 L54.3,197.8 L54.7,198.1 L55.1,198.1 L55.5,197.7 L55.9,197.1 L56.3,196.5 L56.7,196.2 L57.1,196.1 L57.1,196.2 L57.5,196.4 L57.9,196.7 L58.3,197.0 L58.7,197.4 L59.1,197.7 L59.5,197.8 L59.9,197.8 L60.3,197.6 L60.7,197.3 L61.1,196.9 L61.5,196.6 L61.9,196.3 L62.3,196.0 L62.7,195.8 L62.8,195.8 L63.1,195.8 L63.5,195.9 L63.9,196.2 L64.3,196.6 L64.7,197.1 L65.1,197.7 L65.5,198.2 L65.9,198.7 L66.3,198.9 L66.7,199.1 L67.1,199.3 L67.5,199.5 L67.9,199.6 L68.3,199.4 L68.7,199.0 L69.1,198.7 L69.5,198.6 L69.9,198.6 L70.3,198.5 L70.7,198.4 L71.1,198.3 L71.5,198.3 L71.9,198.3 L72.3,198.5 L72.7,198.8 L73.1,199.0 L73.5,198.9 L73.9,198.9 L74.3,198.6 L74.7,198.5 L75.1,198.4 L75.5,198.6 L75.9,198.7 L76.3,198.9 L76.7,198.7 L77.1,198.6 L77.5,198.5 L77.9,198.6 L78.3,198.6 L78.7,198.6 L79.1,198.6 L79.5,198.9 L79.9,199.0 L80.3,199.1 L80.7,199.2 L81.1,199.3 L81.5,199.5 L81.9,199.6 L82.3,199.5 L82.7,199.4 L83.1,199.1 L83.5,198.8 L83.9,198.5 L84.3,198.2 L84.7,197.9 L85.1,197.2 L85.5,196.3 L85.9,195.2 L86.3,193.9 L86.7,192.6 L87.1,191.3 L87.5,189.9 L87.9,188.6 L88.2,187.7 L88.3,187.6 L88.7,186.8 L89.1,186.6 L89.5,187.1 L89.9,188.1 L90.3,189.7 L90.7,191.4 L91.1,193.0 L91.5,194.5 L91.9,196.0 L92.3,197.3 L92.7,198.3 L93.1,199.0 L93.5,199.5 L93.9,200.0 L94.3,200.4 L94.7,200.7 L95.1,200.9 L95.5,201.0 L95.9,200.8 L96.3,200.7 L96.7,200.4 L97.1,200.3 L97.5,200.3 L97.9,200.2 L98.3,200.2 L98.7,200.0 L99.1,199.8 L99.5,199.6 L99.9,199.3 L100.3,199.1 L100.7,198.9 L101.1,198.8 L101.5,198.8 L101.9,198.7 L102.3,198.7 L102.7,198.6 L103.1,198.4 L103.5,198.3 L103.9,198.3 L104.3,198.4 L104.7,198.5 L105.1,198.6 L105.5,198.7 L105.9,198.5 L106.3,198.6 L106.7,198.7 L107.1,198.9 L107.5,198.9 L107.9,198.9 L108.3,198.9 L108.7,199.0 L109.1,198.9 L109.5,198.9 L109.9,198.8 L110.3,198.9 L110.7,198.9 L111.1,199.0 L111.5,198.9 L111.9,198.9 L112.3,198.8 L112.7,198.8 L113.1,198.8 L113.5,198.8 L113.9,198.7 L114.3,198.7 L114.7,198.8 L115.1,198.9 L115.5,198.8 L115.9,198.8 L116.3,198.7 L116.7,198.8 L117.1,198.8 L117.5,198.8 L117.9,198.8 L118.3,198.7 L118.7,198.6 L119.1,198.6 L119.5,198.7 L119.9,198.7 L120.3,198.8 L120.7,198.9 L121.1,198.9 L121.5,198.8 L121.9,198.7 L122.3,198.6 L122.7,198.6 L123.1,198.5 L123.5,198.3 L123.9,197.9 L124.3,197.6 L124.7,197.4 L125.1,197.5 L125.5,197.6 L125.9,197.8 L126.3,198.0 L126.7,198.2 L127.1,198.4 L127.5,198.7 L127.9,198.9 L128.3,199.1 L128.7,199.1 L129.1,199.1 L129.5,199.1 L129.9,199.2 L130.3,199.4 L130.7,199.7 L131.1,199.9 L131.5,199.7 L131.9,199.5 L132.3,199.3 L132.7,199.3 L133.1,199.2 L133.5,199.3 L133.9,199.3 L134.3,199.5 L134.7,199.6 L135.1,199.6 L135.5,199.5 L135.9,199.3 L136.3,199.2 L136.7,199.3 L137.1,199.4 L137.5,199.5 L137.9,199.5 L138.3,199.5 L138.7,199.4 L139.1,199.3 L139.5,199.2 L139.9,199.3 L140.3,199.3 L140.7,199.2 L141.1,199.0 L141.5,198.9 L141.9,198.7 L142.3,198.5 L142.7,198.3 L143.1,198.2 L143.5,198.3 L143.9,198.5 L144.3,198.5 L144.7,198.7 L145.1,198.9 L145.5,199.0 L145.9,199.0 L146.3,199.0 L146.7,199.0 L147.1,199.0 L147.5,199.0 L147.9,198.9 L148.3,198.8 L148.7,198.7 L149.1,198.6 L149.5,198.6 L149.9,198.6 L150.3,198.6 L150.7,198.8 L151.1,198.9 L151.5,198.9 L151.9,198.9 L152.3,198.7 L152.7,198.6 L153.1,198.5 L153.5,198.6 L153.9,198.7 L154.3,198.9 L154.7,198.9 L155.1,198.7 L155.5,198.6 L155.9,198.6 L156.3,198.6 L156.7,198.5 L157.1,198.3 L157.5,198.3 L157.9,198.3 L158.3,198.3 L158.7,198.1 L159.1,197.8 L159.5,197.5 L159.9,197.2 L160.3,197.0 L160.7,196.6 L161.1,196.2 L161.5,196.0 L161.9,196.0 L162.3,196.2 L162.7,196.4 L163.1,196.6 L163.5,196.9 L163.9,197.1 L164.3,197.3 L164.7,197.5 L165.1,197.6 L165.5,197.6 L165.9,197.6 L166.3,197.4 L166.7,197.1 L167.1,196.8 L167.5,196.4 L167.9,196.0 L168.3,195.5 L168.7,195.0 L169.1,194.5 L169.5,193.9 L169.9,193.3 L170.3,192.8 L170.7,192.6 L171.1,192.7 L171.5,193.1 L171.9,193.6 L172.3,194.2 L172.7,194.8 L173.1,195.4 L173.5,195.8 L173.9,195.9 L174.3,196.1 L174.7,196.2 L175.1,196.4 L175.5,196.4 L175.9,196.4 L176.3,196.2 L176.7,195.9 L177.1,195.5 L177.5,195.1 L177.9,194.5 L178.3,194.0 L178.7,193.3 L179.1,192.5 L179.5,191.6 L179.9,190.8 L180.3,189.8 L180.7,188.9 L181.1,187.9 L181.5,187.0 L181.9,186.1 L182.3,185.2 L182.7,184.5 L183.1,184.1 L183.5,183.9 L183.8,183.9 L183.9,183.9 L184.3,183.9 L184.7,184.2 L185.1,184.8 L185.5,185.6 L185.9,186.5 L186.3,187.6 L186.7,188.6 L187.1,189.5 L187.5,190.6 L187.9,191.5 L188.3,192.4 L188.7,193.1 L189.1,193.7 L189.5,194.3 L189.9,194.8 L190.3,195.4 L190.7,195.8 L191.1,196.0 L191.5,196.0 L191.9,196.0 L192.3,196.1 L192.7,196.3 L193.1,196.4 L193.5,196.5 L193.9,196.5 L194.3,196.6 L194.7,196.5 L195.1,196.5 L195.5,196.5 L195.9,196.4 L196.3,196.4 L196.7,196.3 L197.1,196.3 L197.5,196.4 L197.9,196.4 L198.3,196.4 L198.7,196.4 L199.1,196.3 L199.5,196.2 L199.9,196.0 L200.3,195.7 L200.7,195.5 L201.1,195.3 L201.5,195.2 L201.9,195.0 L202.3,194.7 L202.7,194.4 L203.1,194.1 L203.5,193.8 L203.9,193.6 L204.3,193.4 L204.7,193.3 L205.1,193.1 L205.5,193.0 L205.9,192.9 L206.3,192.8 L206.7,192.6 L207.1,192.3 L207.5,191.9 L207.9,191.4 L208.3,191.0 L208.7,190.5 L209.1,189.9 L209.5,189.3 L209.9,188.4 L210.3,187.3 L210.7,185.9 L211.1,184.1 L211.5,181.8 L211.9,178.8 L212.3,175.4 L212.7,172.0 L213.1,169.2 L213.5,168.0 L213.5,168.0 L213.9,168.9 L214.3,171.3 L214.7,174.4 L215.1,177.8 L215.5,180.8 L215.9,183.4 L216.3,185.5 L216.7,187.3 L217.1,188.8 L217.5,189.8 L217.9,190.5 L218.3,190.9 L218.7,191.0 L219.1,190.8 L219.5,190.2 L219.9,189.1 L220.3,187.8 L220.7,186.3 L221.1,184.8 L221.5,183.4 L221.9,181.8 L222.3,179.6 L222.7,176.7 L223.1,173.2 L223.5,168.7 L223.9,163.4 L224.3,157.8 L224.7,152.9 L225.1,150.2 L225.2,150.0 L225.2,149.7 L225.5,150.5 L225.9,154.5 L226.3,160.6 L226.7,167.0 L227.1,173.0 L227.5,178.0 L227.9,182.0 L228.3,185.2 L228.7,187.7 L229.1,189.5 L229.5,190.9 L229.9,191.7 L230.3,192.2 L230.7,192.5 L231.1,192.8 L231.5,193.1 L231.9,193.5 L232.3,193.8 L232.7,194.1 L233.1,194.4 L233.5,194.7 L233.9,194.9 L234.3,195.1 L234.7,195.2 L235.1,195.3 L235.5,195.4 L235.9,195.5 L236.3,195.5 L236.7,195.4 L237.1,195.4 L237.5,195.4 L237.9,195.3 L238.3,195.2 L238.7,195.2 L239.1,195.2 L239.5,195.3 L239.9,195.4 L240.3,195.5 L240.7,195.6 L241.1,195.7 L241.5,195.6 L241.9,195.5 L242.3,195.5 L242.7,195.5 L243.1,195.4 L243.5,195.3 L243.9,195.2 L244.3,195.0 L244.7,194.9 L245.1,194.8 L245.5,194.9 L245.9,195.1 L246.3,195.3 L246.7,195.4 L247.1,195.5 L247.5,195.5 L247.9,195.3 L248.3,195.2 L248.7,195.2 L249.1,195.3 L249.5,195.3 L249.9,195.2 L250.3,195.0 L250.7,194.9 L251.1,195.0 L251.5,194.8 L251.9,194.6 L252.3,194.2 L252.7,193.8 L253.1,193.5 L253.5,193.2 L253.9,192.7 L254.3,192.1 L254.7,191.3 L255.1,190.2 L255.5,188.7 L255.9,186.9 L256.3,184.5 L256.7,181.6 L257.1,178.1 L257.5,173.6 L257.9,168.5 L258.3,162.9 L258.7,157.6 L259.1,153.6 L259.5,152.1 L259.5,152.0 L259.9,153.5 L260.3,157.4 L260.7,162.7 L261.1,168.2 L261.5,173.3 L261.9,177.8 L262.3,181.4 L262.7,184.5 L263.1,186.8 L263.5,188.5 L263.9,189.6 L264.3,190.2 L264.7,190.5 L265.1,190.7 L265.5,191.0 L265.9,191.3 L266.3,191.7 L266.7,192.1 L267.1,192.5 L267.5,192.9 L267.9,193.3 L268.3,193.7 L268.7,194.1 L269.1,194.3 L269.5,194.2 L269.9,193.9 L270.3,193.3 L270.7,192.5 L271.1,191.5 L271.5,190.5 L271.9,189.2 L272.3,187.9 L272.7,186.5 L273.1,185.2 L273.5,184.2 L273.9,183.7 L274.0,183.7 L274.3,183.8 L274.7,184.5 L275.1,185.5 L275.5,186.9 L275.9,188.0 L276.3,189.1 L276.7,189.9 L277.1,190.7 L277.5,191.3 L277.9,191.8 L278.3,192.1 L278.7,191.9 L279.1,191.5 L279.5,191.4 L279.9,192.3 L280.3,193.4 L280.7,194.4 L281.1,195.0 L281.5,195.3 L281.9,195.4 L282.3,195.5 L282.7,195.7 L283.1,195.7 L283.5,195.9 L283.9,196.1 L284.3,196.5 L284.7,196.9 L285.1,197.2 L285.5,197.4 L285.9,197.5 L286.3,197.4 L286.7,197.1 L287.1,196.8 L287.5,196.3 L287.9,195.4 L288.3,194.0 L288.7,192.1 L289.1,189.8 L289.5,187.2 L289.9,184.2 L290.3,181.0 L290.7,177.9 L291.1,175.2 L291.5,173.4 L291.9,172.6 L292.0,172.5 L292.3,172.7 L292.7,174.2 L293.1,176.6 L293.5,179.6 L293.9,182.9 L294.3,186.2 L294.7,189.8 L295.1,193.2 L295.5,195.6 L295.9,196.8 L296.3,197.6 L296.7,198.2 L297.1,198.7 L297.5,199.1 L297.9,199.3 L298.3,199.3 L298.7,199.4 L299.1,199.5 L299.5,199.6 L299.9,199.7 L300.3,199.9 L300.7,200.0 L301.1,200.0 L301.5,200.1 L301.9,200.1 L302.3,200.2 L302.7,200.2 L303.1,200.3 L303.5,200.4 L303.9,200.6 L304.3,200.7 L304.7,200.8 L305.1,200.8 L305.5,200.7 L305.9,200.7 L306.3,200.8 L306.7,200.9 L307.1,201.0 L307.5,201.1 L307.9,201.2 L308.3,201.1 L308.7,201.0 L309.1,200.9 L309.5,200.9 L309.9,200.9 L310.3,201.0 L310.7,201.1 L311.1,201.1 L311.5,201.1 L311.9,201.0 L312.3,201.0 L312.7,201.1 L313.1,201.0 L313.5,201.0 L313.9,200.9 L314.3,201.0 L314.7,200.9 L315.1,200.8 L315.5,200.8 L315.9,200.9 L316.3,201.1 L316.7,201.1 L317.1,201.2 L317.5,201.3 L317.9,201.5 L318.3,201.5 L318.7,201.5 L319.1,201.3 L319.5,201.3 L319.9,201.2 L320.3,201.3 L320.7,201.2 L321.1,201.1 L321.5,201.0 L321.9,200.9 L322.3,201.0 L322.7,201.0 L323.1,201.0 L323.5,201.1 L323.9,201.2 L324.3,201.3 L324.7,201.2 L325.1,201.2 L325.5,201.2 L325.9,201.3 L326.3,201.4 L326.7,201.5 L327.1,201.5 L327.5,201.6 L327.9,201.7 L328.3,201.7 L328.7,201.7 L329.1,201.6 L329.5,201.5 L329.9,201.5 L330.3,201.5 L330.7,201.5 L331.1,201.4 L331.5,201.3 L331.9,201.3 L332.3,201.2 L332.7,201.3 L333.1,201.4 L333.5,201.7 L333.9,201.8 L334.3,201.8 L334.7,201.8 L335.1,201.8 L335.5,201.8 L335.9,201.8 L336.3,201.7 L336.7,201.5 L337.1,201.5 L337.5,201.4 L337.9,201.3 L338.3,201.4 L338.7,201.5 L339.1,201.6 L339.5,201.7 L339.9,201.8 L340.3,201.7 L340.7,201.6 L341.1,201.6 L341.5,201.6 L341.9,201.6 L342.3,201.5 L342.7,201.4 L343.1,201.4 L343.5,201.4 L343.9,201.6 L344.3,201.7 L344.7,201.8 L345.1,201.8 L345.5,201.8 L345.9,201.7 L346.3,201.6 L346.7,201.5 L347.1,201.6 L347.5,201.7 L347.9,201.9 L348.3,201.9 L348.7,201.8 L349.1,201.6 L349.5,201.6 L349.9,201.7 L350.3,201.8 L350.7,201.7 L351.1,201.7 L351.5,201.7 L351.9,201.7 L352.3,201.7 L352.7,201.8 L353.1,201.8 L353.5,201.9 L353.9,201.9 L354.3,202.0 L354.7,202.0 L355.1,201.9 L355.5,201.8 L355.9,201.7 L356.3,201.6 L356.7,201.6 L357.1,201.6 L357.5,201.7 L357.9,201.8 L358.3,201.8 L358.7,201.7 L359.1,201.5 L359.5,201.5 L359.9,201.5 L360.3,201.6 L360.7,201.7 L361.1,201.8 L361.5,201.8 L361.9,201.7 L362.3,201.7 L362.7,201.6 L363.1,201.7 L363.5,201.7 L363.9,201.8 L364.3,201.9 L364.7,201.9 L365.1,202.0 L365.5,201.9 L365.9,201.7 L366.3,201.6 L366.7,201.7 L367.1,201.8 L367.5,201.8 L367.9,201.8 L368.3,201.8 L368.7,201.8 L369.1,201.7 L369.5,201.8 L369.9,201.9 L370.3,202.0 L370.7,202.0 L371.1,202.0 L371.5,202.1 L371.9,202.1 L372.3,202.2" fill="none" stroke="#3f28fa" stroke-width="2.15" stroke-linejoin="round" stroke-linecap="round"/>
<path d="M26.3,176.0 L26.7,175.5 L27.1,175.0 L27.5,174.5 L27.9,174.0 L28.3,173.7 L28.7,173.5 L29.1,173.3 L29.5,173.2 L29.9,173.1 L30.3,173.0 L30.7,173.0 L31.1,173.1 L31.5,173.1 L31.9,173.2 L32.3,173.4 L32.7,173.7 L33.1,174.0 L33.5,174.3 L33.9,174.6 L34.3,174.8 L34.7,174.9 L35.1,175.0 L35.5,175.0 L35.9,174.9 L36.3,174.8 L36.7,174.6 L37.1,174.5 L37.5,174.2 L37.9,173.7 L38.3,173.0 L38.7,172.2 L39.1,171.6 L39.5,171.0 L39.9,170.5 L40.3,170.1 L40.7,169.8 L41.1,169.6 L41.5,169.5 L41.6,169.5 L41.9,169.6 L42.3,170.1 L42.7,170.8 L43.1,171.6 L43.5,172.3 L43.9,173.1 L44.3,173.9 L44.7,174.7 L45.1,175.4 L45.5,176.0 L45.9,176.6 L46.3,177.0 L46.7,177.3 L47.1,177.6 L47.5,177.7 L47.9,177.7 L48.3,177.6 L48.7,177.1 L49.1,176.1 L49.5,174.3 L49.9,171.0 L50.3,165.1 L50.7,154.6 L51.1,138.2 L51.5,120.4 L51.8,115.8 L51.9,117.3 L52.3,133.3 L52.7,151.1 L53.1,163.2 L53.5,170.0 L53.9,173.4 L54.3,175.1 L54.7,175.8 L55.1,176.0 L55.5,175.9 L55.9,175.6 L56.3,175.4 L56.7,175.2 L57.1,175.1 L57.1,175.0 L57.5,175.0 L57.9,175.3 L58.3,175.7 L58.7,176.2 L59.1,176.6 L59.5,177.0 L59.9,177.1 L60.3,177.0 L60.7,176.7 L61.1,176.4 L61.5,176.0 L61.9,175.7 L62.3,175.6 L62.7,175.6 L62.8,175.5 L63.1,175.5 L63.5,175.5 L63.9,175.7 L64.3,176.0 L64.7,176.4 L65.1,176.6 L65.5,176.9 L65.9,177.2 L66.3,177.7 L66.7,178.0 L67.1,178.3 L67.5,178.4 L67.9,178.2 L68.3,178.0 L68.7,177.8 L69.1,177.9 L69.5,177.9 L69.9,177.8 L70.3,177.8 L70.7,177.7 L71.1,177.7 L71.5,177.6 L71.9,177.5 L72.3,177.4 L72.7,177.5 L73.1,177.7 L73.5,178.0 L73.9,178.2 L74.3,178.3 L74.7,178.1 L75.1,177.9 L75.5,177.8 L75.9,177.8 L76.3,177.8 L76.7,177.7 L77.1,177.7 L77.5,177.7 L77.9,177.8 L78.3,177.9 L78.7,178.1 L79.1,178.3 L79.5,178.6 L79.9,178.9 L80.3,179.2 L80.7,179.3 L81.1,179.2 L81.5,179.3 L81.9,179.3 L82.3,179.2 L82.7,179.1 L83.1,179.0 L83.5,178.8 L83.9,178.4 L84.3,177.6 L84.7,176.5 L85.1,175.2 L85.5,173.8 L85.9,172.2 L86.3,170.4 L86.7,168.4 L87.1,166.4 L87.5,164.6 L87.9,163.0 L88.2,161.9 L88.3,161.7 L88.7,160.8 L89.1,160.7 L89.5,161.4 L89.9,162.5 L90.3,164.2 L90.7,165.9 L91.1,167.9 L91.5,170.0 L91.9,171.9 L92.3,173.7 L92.7,175.1 L93.1,176.4 L93.5,177.5 L93.9,178.4 L94.3,179.1 L94.7,179.7 L95.1,180.2 L95.5,180.5 L95.9,180.7 L96.3,180.7 L96.7,180.6 L97.1,180.5 L97.5,180.5 L97.9,180.4 L98.3,180.3 L98.7,180.1 L99.1,180.1 L99.5,179.9 L99.9,179.7 L100.3,179.3 L100.7,179.2 L101.1,179.0 L101.5,179.0 L101.9,178.9 L102.3,178.9 L102.7,178.8 L103.1,178.7 L103.5,178.6 L103.9,178.7 L104.3,178.8 L104.7,178.9 L105.1,179.1 L105.5,179.2 L105.9,179.3 L106.3,179.3 L106.7,179.5 L107.1,179.5 L107.5,179.7 L107.9,179.8 L108.3,179.8 L108.7,179.7 L109.1,179.7 L109.5,179.7 L109.9,179.8 L110.3,179.8 L110.7,179.7 L111.1,179.6 L111.5,179.5 L111.9,179.5 L112.3,179.4 L112.7,179.2 L113.1,179.1 L113.5,179.1 L113.9,179.2 L114.3,179.2 L114.7,179.2 L115.1,179.3 L115.5,179.4 L115.9,179.4 L116.3,179.3 L116.7,179.3 L117.1,179.4 L117.5,179.4 L117.9,179.5 L118.3,179.5 L118.7,179.4 L119.1,179.3 L119.5,179.2 L119.9,179.5 L120.3,179.7 L120.7,180.0 L121.1,180.1 L121.5,180.0 L121.9,179.8 L122.3,179.4 L122.7,179.1 L123.1,178.8 L123.5,178.5 L123.9,178.2 L124.3,177.9 L124.7,177.6 L125.1,177.4 L125.5,177.5 L125.9,177.9 L126.3,178.4 L126.7,179.0 L127.1,179.6 L127.5,180.1 L127.9,180.6 L128.3,181.0 L128.7,181.3 L129.1,181.4 L129.5,181.3 L129.9,181.2 L130.3,181.2 L130.7,181.3 L131.1,181.3 L131.5,181.3 L131.9,181.1 L132.3,181.0 L132.7,180.9 L133.1,180.9 L133.5,180.8 L133.9,180.7 L134.3,180.5 L134.7,180.4 L135.1,180.5 L135.5,180.7 L135.9,180.8 L136.3,180.7 L136.7,180.5 L137.1,180.5 L137.5,180.6 L137.9,180.6 L138.3,180.6 L138.7,180.7 L139.1,180.7 L139.5,180.6 L139.9,180.4 L140.3,180.3 L140.7,180.2 L141.1,180.0 L141.5,179.8 L141.9,179.6 L142.3,179.3 L142.7,179.2 L143.1,179.2 L143.5,179.3 L143.9,179.4 L144.3,179.6 L144.7,179.8 L145.1,180.0 L145.5,180.3 L145.9,180.5 L146.3,180.6 L146.7,180.6 L147.1,180.7 L147.5,180.6 L147.9,180.6 L148.3,180.6 L148.7,180.6 L149.1,180.5 L149.5,180.2 L149.9,179.9 L150.3,179.7 L150.7,179.6 L151.1,179.5 L151.5,179.3 L151.9,179.2 L152.3,179.3 L152.7,179.5 L153.1,179.8 L153.5,179.9 L153.9,180.1 L154.3,180.2 L154.7,180.4 L155.1,180.5 L155.5,180.4 L155.9,180.2 L156.3,180.0 L156.7,179.9 L157.1,179.8 L157.5,179.8 L157.9,179.6 L158.3,179.5 L158.7,179.3 L159.1,179.0 L159.5,178.5 L159.9,177.9 L160.3,177.3 L160.7,176.8 L161.1,176.3 L161.5,176.1 L161.9,176.0 L162.3,176.2 L162.7,176.5 L163.1,177.0 L163.5,177.4 L163.9,177.9 L164.3,178.1 L164.7,178.4 L165.1,178.6 L165.5,178.7 L165.9,178.7 L166.3,178.5 L166.7,178.3 L167.1,178.0 L167.5,177.6 L167.9,177.0 L168.3,176.2 L168.7,175.4 L169.1,174.5 L169.5,173.6 L169.9,172.7 L170.3,172.2 L170.7,171.9 L171.1,172.2 L171.5,172.6 L171.9,173.4 L172.3,174.3 L172.7,175.3 L173.1,176.1 L173.5,176.9 L173.9,177.5 L174.3,178.1 L174.7,178.6 L175.1,179.0 L175.5,179.2 L175.9,179.3 L176.3,179.1 L176.7,178.6 L177.1,177.9 L177.5,177.2 L177.9,176.4 L178.3,175.6 L178.7,174.6 L179.1,173.8 L179.5,172.8 L179.9,171.8 L180.3,170.6 L180.7,169.5 L181.1,168.3 L181.5,167.3 L181.9,166.5 L182.3,165.9 L182.7,165.5 L183.1,165.1 L183.5,164.8 L183.8,164.7 L183.9,164.8 L184.3,164.9 L184.7,165.3 L185.1,165.8 L185.5,166.5 L185.9,167.4 L186.3,168.4 L186.7,169.4 L187.1,170.5 L187.5,171.6 L187.9,172.7 L188.3,173.7 L188.7,174.7 L189.1,175.6 L189.5,176.4 L189.9,177.1 L190.3,177.8 L190.7,178.5 L191.1,179.1 L191.5,179.4 L191.9,179.5 L192.3,179.6 L192.7,179.6 L193.1,179.6 L193.5,179.6 L193.9,179.7 L194.3,179.8 L194.7,180.0 L195.1,180.1 L195.5,180.2 L195.9,180.2 L196.3,180.2 L196.7,180.1 L197.1,180.0 L197.5,179.8 L197.9,179.7 L198.3,179.5 L198.7,179.2 L199.1,178.9 L199.5,178.6 L199.9,178.2 L200.3,177.8 L200.7,177.5 L201.1,177.1 L201.5,176.7 L201.9,176.4 L202.3,176.1 L202.7,175.9 L203.1,175.6 L203.5,175.4 L203.9,175.1 L204.3,174.9 L204.7,174.8 L205.1,174.8 L205.5,174.8 L205.9,174.7 L206.3,174.4 L206.7,174.0 L207.1,173.6 L207.5,173.2 L207.9,172.9 L208.3,172.5 L208.7,172.1 L209.1,171.5 L209.5,170.8 L209.9,169.9 L210.3,168.8 L210.7,167.4 L211.1,166.0 L211.5,164.5 L211.9,162.2 L212.3,158.1 L212.7,153.6 L213.1,149.6 L213.5,147.5 L213.5,147.5 L213.9,149.4 L214.3,153.4 L214.7,157.9 L215.1,162.3 L215.5,165.3 L215.9,167.8 L216.3,169.9 L216.7,171.5 L217.1,172.7 L217.5,173.5 L217.9,173.9 L218.3,174.0 L218.7,173.8 L219.1,172.9 L219.5,171.0 L219.9,168.6 L220.3,166.0 L220.7,163.6 L221.1,161.4 L221.5,158.8 L221.9,155.6 L222.3,151.8 L222.7,147.6 L223.1,143.8 L223.5,140.0 L223.9,135.5 L224.3,131.4 L224.7,128.7 L225.1,127.4 L225.2,127.4 L225.2,127.4 L225.5,127.7 L225.9,130.0 L226.3,134.2 L226.7,139.8 L227.1,146.3 L227.5,152.1 L227.9,157.1 L228.3,161.1 L228.7,164.4 L229.1,167.0 L229.5,169.2 L229.9,170.9 L230.3,172.3 L230.7,173.4 L231.1,174.2 L231.5,175.2 L231.9,176.3 L232.3,177.3 L232.7,178.0 L233.1,178.4 L233.5,178.8 L233.9,179.2 L234.3,179.7 L234.7,180.1 L235.1,180.4 L235.5,180.5 L235.9,180.4 L236.3,180.4 L236.7,180.1 L237.1,180.0 L237.5,179.8 L237.9,179.8 L238.3,179.9 L238.7,180.0 L239.1,180.1 L239.5,180.0 L239.9,180.1 L240.3,180.2 L240.7,180.4 L241.1,180.6 L241.5,180.6 L241.9,180.4 L242.3,180.2 L242.7,180.0 L243.1,179.9 L243.5,179.8 L243.9,179.8 L244.3,179.8 L244.7,179.8 L245.1,179.7 L245.5,179.7 L245.9,179.8 L246.3,180.0 L246.7,180.1 L247.1,180.2 L247.5,180.2 L247.9,180.1 L248.3,180.1 L248.7,180.1 L249.1,180.1 L249.5,180.1 L249.9,180.1 L250.3,179.9 L250.7,179.7 L251.1,179.5 L251.5,179.3 L251.9,179.1 L252.3,178.7 L252.7,178.3 L253.1,177.7 L253.5,177.0 L253.9,176.4 L254.3,175.7 L254.7,175.0 L255.1,173.6 L255.5,171.9 L255.9,169.5 L256.3,166.7 L256.7,162.9 L257.1,157.9 L257.5,152.0 L257.9,145.5 L258.3,138.8 L258.7,132.9 L259.1,128.8 L259.5,127.4 L259.5,127.5 L259.9,129.1 L260.3,133.4 L260.7,139.4 L261.1,145.8 L261.5,152.2 L261.9,157.9 L262.3,162.8 L262.7,166.6 L263.1,169.4 L263.5,171.3 L263.9,172.7 L264.3,173.6 L264.7,174.4 L265.1,175.2 L265.5,176.1 L265.9,176.9 L266.3,177.4 L266.7,177.8 L267.1,178.0 L267.5,178.5 L267.9,178.9 L268.3,179.2 L268.7,179.4 L269.1,179.6 L269.5,179.7 L269.9,179.4 L270.3,178.8 L270.7,178.0 L271.1,177.0 L271.5,175.7 L271.9,174.2 L272.3,172.5 L272.7,170.9 L273.1,169.4 L273.5,168.4 L273.9,167.9 L274.0,168.1 L274.3,168.4 L274.7,169.1 L275.1,170.2 L275.5,171.6 L275.9,173.0 L276.3,174.4 L276.7,175.8 L277.1,176.9 L277.5,177.6 L277.9,177.9 L278.3,177.9 L278.7,177.7 L279.1,177.2 L279.5,177.0 L279.9,177.4 L280.3,178.2 L280.7,179.1 L281.1,179.9 L281.5,180.4 L281.9,180.8 L282.3,181.1 L282.7,181.3 L283.1,181.4 L283.5,181.7 L283.9,182.0 L284.3,182.3 L284.7,182.7 L285.1,182.9 L285.5,183.3 L285.9,183.4 L286.3,183.5 L286.7,183.1 L287.1,182.4 L287.5,181.3 L287.9,179.8 L288.3,178.0 L288.7,175.8 L289.1,173.3 L289.5,170.5 L289.9,167.7 L290.3,164.7 L290.7,161.9 L291.1,159.6 L291.5,158.1 L291.9,157.6 L292.0,157.7 L292.3,158.0 L292.7,159.2 L293.1,161.1 L293.5,163.7 L293.9,166.5 L294.3,169.4 L294.7,172.4 L295.1,175.1 L295.5,177.5 L295.9,179.4 L296.3,180.8 L296.7,181.8 L297.1,182.5 L297.5,182.8 L297.9,182.9 L298.3,183.1 L298.7,183.3 L299.1,183.5 L299.5,183.7 L299.9,183.9 L300.3,184.0 L300.7,184.1 L301.1,184.2 L301.5,184.2 L301.9,184.2 L302.3,184.3 L302.7,184.5 L303.1,184.6 L303.5,184.5 L303.9,184.4 L304.3,184.2 L304.7,184.2 L305.1,184.3 L305.5,184.5 L305.9,184.5 L306.3,184.7 L306.7,184.7 L307.1,184.7 L307.5,184.7 L307.9,184.7 L308.3,184.7 L308.7,184.7 L309.1,184.7 L309.5,184.7 L309.9,184.7 L310.3,184.8 L310.7,184.9 L311.1,185.0 L311.5,185.1 L311.9,185.2 L312.3,185.1 L312.7,185.1 L313.1,185.1 L313.5,185.1 L313.9,185.1 L314.3,185.1 L314.7,185.2 L315.1,185.3 L315.5,185.2 L315.9,185.2 L316.3,185.2 L316.7,185.2 L317.1,185.2 L317.5,185.3 L317.9,185.4 L318.3,185.4 L318.7,185.4 L319.1,185.4 L319.5,185.3 L319.9,185.5 L320.3,185.5 L320.7,185.6 L321.1,185.6 L321.5,185.6 L321.9,185.6 L322.3,185.7 L322.7,185.7 L323.1,185.8 L323.5,185.7 L323.9,185.7 L324.3,185.6 L324.7,185.6 L325.1,185.5 L325.5,185.4 L325.9,185.4 L326.3,185.4 L326.7,185.5 L327.1,185.6 L327.5,185.7 L327.9,185.7 L328.3,185.7 L328.7,185.7 L329.1,185.7 L329.5,185.7 L329.9,185.7 L330.3,185.8 L330.7,185.9 L331.1,186.0 L331.5,186.0 L331.9,185.9 L332.3,185.7 L332.7,185.7 L333.1,185.8 L333.5,185.9 L333.9,186.0 L334.3,186.0 L334.7,186.1 L335.1,186.1 L335.5,186.0 L335.9,185.8 L336.3,185.7 L336.7,185.7 L337.1,185.8 L337.5,185.8 L337.9,185.8 L338.3,185.8 L338.7,185.8 L339.1,185.9 L339.5,186.0 L339.9,186.1 L340.3,186.1 L340.7,186.1 L341.1,186.1 L341.5,186.1 L341.9,186.1 L342.3,186.0 L342.7,185.9 L343.1,186.0 L343.5,186.0 L343.9,186.1 L344.3,186.1 L344.7,186.1 L345.1,186.1 L345.5,186.0 L345.9,185.9 L346.3,185.9 L346.7,185.9 L347.1,186.1 L347.5,186.2 L347.9,186.3 L348.3,186.2 L348.7,186.1 L349.1,186.0 L349.5,186.1 L349.9,186.2 L350.3,186.4 L350.7,186.3 L351.1,186.3 L351.5,186.3 L351.9,186.4 L352.3,186.4 L352.7,186.4 L353.1,186.4 L353.5,186.3 L353.9,186.1 L354.3,186.0 L354.7,186.1 L355.1,186.3 L355.5,186.3 L355.9,186.4 L356.3,186.4 L356.7,186.4 L357.1,186.4 L357.5,186.4 L357.9,186.5 L358.3,186.5 L358.7,186.5 L359.1,186.4 L359.5,186.4 L359.9,186.4 L360.3,186.3 L360.7,186.2 L361.1,186.2 L361.5,186.2 L361.9,186.3 L362.3,186.4 L362.7,186.4 L363.1,186.5 L363.5,186.5 L363.9,186.6 L364.3,186.4 L364.7,186.3 L365.1,186.2 L365.5,186.3 L365.9,186.4 L366.3,186.5 L366.7,186.6 L367.1,186.6 L367.5,186.6 L367.9,186.5 L368.3,186.6 L368.7,186.6 L369.1,186.6 L369.5,186.5 L369.9,186.4 L370.3,186.3 L370.7,186.2 L371.1,186.2 L371.5,186.2 L371.9,186.3 L372.3,186.4" fill="none" stroke="#a834f2" stroke-width="2.15" stroke-linejoin="round" stroke-linecap="round"/>
<path d="M26.3,171.0 L26.7,168.9 L27.1,167.7 L27.5,167.0 L27.9,166.5 L28.3,165.8 L28.7,164.7 L29.1,163.7 L29.5,163.1 L29.9,162.4 L30.3,162.1 L30.7,161.7 L31.1,161.6 L31.5,161.7 L31.9,162.1 L32.3,162.7 L32.7,163.6 L33.1,164.5 L33.5,165.6 L33.9,166.7 L34.3,167.7 L34.7,168.4 L35.1,169.0 L35.5,169.3 L35.9,169.3 L36.3,169.1 L36.7,169.0 L37.1,168.9 L37.5,168.5 L37.9,167.8 L38.3,166.5 L38.7,165.5 L39.1,165.1 L39.5,164.4 L39.9,163.0 L40.3,159.4 L40.7,155.4 L41.1,151.7 L41.5,149.0 L41.6,148.8 L41.9,149.5 L42.3,151.4 L42.7,154.1 L43.1,157.5 L43.5,161.5 L43.9,165.8 L44.3,168.7 L44.7,170.1 L45.1,171.0 L45.5,171.7 L45.9,172.0 L46.3,172.5 L46.7,172.9 L47.1,173.0 L47.5,172.8 L47.9,172.4 L48.3,172.0 L48.7,171.7 L49.1,171.5 L49.5,170.5 L49.9,167.9 L50.3,162.4 L50.7,150.0 L51.1,121.7 L51.5,66.8 L51.8,5.5 L51.9,47.7 L52.3,109.8 L52.7,144.7 L53.1,160.1 L53.5,166.8 L53.9,169.9 L54.3,172.0 L54.7,172.2 L55.1,170.6 L55.5,167.7 L55.9,164.5 L56.3,161.5 L56.7,159.6 L57.1,159.0 L57.1,159.0 L57.5,160.2 L57.9,162.8 L58.3,166.1 L58.7,169.2 L59.1,171.4 L59.5,172.4 L59.9,172.2 L60.3,171.0 L60.7,169.0 L61.1,166.7 L61.5,164.3 L61.9,162.3 L62.3,160.9 L62.7,160.4 L62.8,160.4 L63.1,160.8 L63.5,161.8 L63.9,163.5 L64.3,165.7 L64.7,168.1 L65.1,170.6 L65.5,172.8 L65.9,174.7 L66.3,176.3 L66.7,177.4 L67.1,177.8 L67.5,177.7 L67.9,177.3 L68.3,176.7 L68.7,175.9 L69.1,175.2 L69.5,174.4 L69.9,173.7 L70.3,173.1 L70.7,172.8 L71.1,172.8 L71.5,172.9 L71.9,173.1 L72.3,173.4 L72.7,173.7 L73.1,174.0 L73.5,174.2 L73.9,174.3 L74.3,174.4 L74.7,174.4 L75.1,174.5 L75.5,174.3 L75.9,173.9 L76.3,173.5 L76.7,173.2 L77.1,173.1 L77.5,173.0 L77.9,173.0 L78.3,172.8 L78.7,172.9 L79.1,172.8 L79.5,172.9 L79.9,173.1 L80.3,173.5 L80.7,174.0 L81.1,174.6 L81.5,175.1 L81.9,175.6 L82.3,175.8 L82.7,175.8 L83.1,175.5 L83.5,175.1 L83.9,174.1 L84.3,173.1 L84.7,172.2 L85.1,171.1 L85.5,168.9 L85.9,165.5 L86.3,160.0 L86.7,148.0 L87.1,137.4 L87.5,129.2 L87.9,122.1 L88.2,116.8 L88.3,116.2 L88.7,115.3 L89.1,120.1 L89.5,127.7 L89.9,134.3 L90.3,138.5 L90.7,141.5 L91.1,145.3 L91.5,151.7 L91.9,159.2 L92.3,164.2 L92.7,167.8 L93.1,170.5 L93.5,172.3 L93.9,173.3 L94.3,174.1 L94.7,174.8 L95.1,175.3 L95.5,175.6 L95.9,175.6 L96.3,175.6 L96.7,175.5 L97.1,175.5 L97.5,175.2 L97.9,174.8 L98.3,174.4 L98.7,174.1 L99.1,173.9 L99.5,173.7 L99.9,173.4 L100.3,173.2 L100.7,173.1 L101.1,173.2 L101.5,173.2 L101.9,173.2 L102.3,173.0 L102.7,173.0 L103.1,173.0 L103.5,173.1 L103.9,173.3 L104.3,173.7 L104.7,173.9 L105.1,174.2 L105.5,174.5 L105.9,174.8 L106.3,175.2 L106.7,175.6 L107.1,175.8 L107.5,175.8 L107.9,175.7 L108.3,175.7 L108.7,175.7 L109.1,175.9 L109.5,176.0 L109.9,175.9 L110.3,175.6 L110.7,175.1 L111.1,174.7 L111.5,174.5 L111.9,174.5 L112.3,174.5 L112.7,174.3 L113.1,174.1 L113.5,173.9 L113.9,173.9 L114.3,173.9 L114.7,173.8 L115.1,173.6 L115.5,173.6 L115.9,173.6 L116.3,173.9 L116.7,174.1 L117.1,174.4 L117.5,174.6 L117.9,174.6 L118.3,174.2 L118.7,173.7 L119.1,173.6 L119.5,174.3 L119.9,175.1 L120.3,175.4 L120.7,175.4 L121.1,175.5 L121.5,175.6 L121.9,175.4 L122.3,174.8 L122.7,174.1 L123.1,173.4 L123.5,172.6 L123.9,171.4 L124.3,170.2 L124.7,169.2 L125.1,168.8 L125.5,169.0 L125.9,169.9 L126.3,171.0 L126.7,172.2 L127.1,173.3 L127.5,174.3 L127.9,174.9 L128.3,175.4 L128.7,175.8 L129.1,176.0 L129.5,176.1 L129.9,176.1 L130.3,176.2 L130.7,176.3 L131.1,176.3 L131.5,176.1 L131.9,175.8 L132.3,175.6 L132.7,175.4 L133.1,175.2 L133.5,175.2 L133.9,175.2 L134.3,175.1 L134.7,174.9 L135.1,174.9 L135.5,174.9 L135.9,175.1 L136.3,175.1 L136.7,175.1 L137.1,175.2 L137.5,175.2 L137.9,175.3 L138.3,175.5 L138.7,175.5 L139.1,175.5 L139.5,175.2 L139.9,174.8 L140.3,174.4 L140.7,174.0 L141.1,173.7 L141.5,173.2 L141.9,172.6 L142.3,171.9 L142.7,171.3 L143.1,171.2 L143.5,171.5 L143.9,172.0 L144.3,172.5 L144.7,172.9 L145.1,173.2 L145.5,173.3 L145.9,173.4 L146.3,173.6 L146.7,173.8 L147.1,173.7 L147.5,173.7 L147.9,173.6 L148.3,173.6 L148.7,173.6 L149.1,173.5 L149.5,173.3 L149.9,173.1 L150.3,172.9 L150.7,172.7 L151.1,172.6 L151.5,172.4 L151.9,172.4 L152.3,172.4 L152.7,172.5 L153.1,172.6 L153.5,172.6 L153.9,172.6 L154.3,172.6 L154.7,172.6 L155.1,172.8 L155.5,172.9 L155.9,172.8 L156.3,172.7 L156.7,172.7 L157.1,172.5 L157.5,172.4 L157.9,172.2 L158.3,171.9 L158.7,171.3 L159.1,170.3 L159.5,169.1 L159.9,167.5 L160.3,165.9 L160.7,164.1 L161.1,162.6 L161.5,161.5 L161.9,161.1 L162.3,161.6 L162.7,162.7 L163.1,164.1 L163.5,165.5 L163.9,166.8 L164.3,167.7 L164.7,168.2 L165.1,168.3 L165.5,168.1 L165.9,167.7 L166.3,167.1 L166.7,166.3 L167.1,165.4 L167.5,164.4 L167.9,163.1 L168.3,161.3 L168.7,159.0 L169.1,156.2 L169.5,153.1 L169.9,150.0 L170.3,147.5 L170.7,146.4 L171.1,147.0 L171.5,149.1 L171.9,152.0 L172.3,155.0 L172.7,157.8 L173.1,160.0 L173.5,161.9 L173.9,163.2 L174.3,164.1 L174.7,164.7 L175.1,165.0 L175.5,165.2 L175.9,165.2 L176.3,165.2 L176.7,164.8 L177.1,164.2 L177.5,163.2 L177.9,161.8 L178.3,160.0 L178.7,157.7 L179.1,155.3 L179.5,152.6 L179.9,149.5 L180.3,146.0 L180.7,142.4 L181.1,138.7 L181.5,135.2 L181.9,131.8 L182.3,128.8 L182.7,126.4 L183.1,124.8 L183.5,124.0 L183.8,123.8 L183.9,123.8 L184.3,124.6 L184.7,126.5 L185.1,129.3 L185.5,132.7 L185.9,136.4 L186.3,140.2 L186.7,143.8 L187.1,146.7 L187.5,149.0 L187.9,151.0 L188.3,153.0 L188.7,155.4 L189.1,157.7 L189.5,159.6 L189.9,161.2 L190.3,162.5 L190.7,164.0 L191.1,165.5 L191.5,166.5 L191.9,166.9 L192.3,167.4 L192.7,167.7 L193.1,167.8 L193.5,167.9 L193.9,168.0 L194.3,168.1 L194.7,168.1 L195.1,168.0 L195.5,167.8 L195.9,167.7 L196.3,167.6 L196.7,167.4 L197.1,167.1 L197.5,166.9 L197.9,166.7 L198.3,166.5 L198.7,166.0 L199.1,165.3 L199.5,164.3 L199.9,163.1 L200.3,161.9 L200.7,160.6 L201.1,159.4 L201.5,158.1 L201.9,156.9 L202.3,155.8 L202.7,154.9 L203.1,154.0 L203.5,153.3 L203.9,152.6 L204.3,152.0 L204.7,151.8 L205.1,152.5 L205.5,153.2 L205.9,153.1 L206.3,152.3 L206.7,151.2 L207.1,149.3 L207.5,147.1 L207.9,144.8 L208.3,143.0 L208.7,141.7 L209.1,140.3 L209.5,138.7 L209.9,136.8 L210.3,135.2 L210.7,134.1 L211.1,130.2 L211.5,121.5 L211.9,109.6 L212.3,96.9 L212.7,85.5 L213.1,77.0 L213.5,74.1 L213.5,74.3 L213.9,77.8 L214.3,86.2 L214.7,96.9 L215.1,107.1 L215.5,117.8 L215.9,129.8 L216.3,134.5 L216.7,137.8 L217.1,142.1 L217.5,145.6 L217.9,147.9 L218.3,149.3 L218.7,150.2 L219.1,149.7 L219.5,147.6 L219.9,144.8 L220.3,140.7 L220.7,136.7 L221.1,133.2 L221.5,128.6 L221.9,121.2 L222.3,111.6 L222.7,100.9 L223.1,90.1 L223.5,83.8 L223.9,78.0 L224.3,66.7 L224.7,44.4 L225.1,19.5 L225.2,18.0 L225.2,16.6 L225.5,23.8 L225.9,50.8 L226.3,72.7 L226.7,92.4 L227.1,109.6 L227.5,122.9 L227.9,129.4 L228.3,131.6 L228.7,133.3 L229.1,137.5 L229.5,141.9 L229.9,145.8 L230.3,149.1 L230.7,151.6 L231.1,153.7 L231.5,155.5 L231.9,157.3 L232.3,159.2 L232.7,161.0 L233.1,161.9 L233.5,162.8 L233.9,163.3 L234.3,163.8 L234.7,164.2 L235.1,164.6 L235.5,164.7 L235.9,164.7 L236.3,164.4 L236.7,163.9 L237.1,163.2 L237.5,161.9 L237.9,160.5 L238.3,159.9 L238.7,160.7 L239.1,161.9 L239.5,162.3 L239.9,161.6 L240.3,160.6 L240.7,159.6 L241.1,159.1 L241.5,158.8 L241.9,159.0 L242.3,159.0 L242.7,159.1 L243.1,159.3 L243.5,159.7 L243.9,160.2 L244.3,160.7 L244.7,161.3 L245.1,161.7 L245.5,162.0 L245.9,162.3 L246.3,162.7 L246.7,162.9 L247.1,163.0 L247.5,162.7 L247.9,162.2 L248.3,161.5 L248.7,160.6 L249.1,159.7 L249.5,158.9 L249.9,158.3 L250.3,158.0 L250.7,157.8 L251.1,157.8 L251.5,157.5 L251.9,157.2 L252.3,156.7 L252.7,156.2 L253.1,155.5 L253.5,154.5 L253.9,153.3 L254.3,152.0 L254.7,150.7 L255.1,148.8 L255.5,145.6 L255.9,140.7 L256.3,132.3 L256.7,121.4 L257.1,108.1 L257.5,96.5 L257.9,84.2 L258.3,64.8 L258.7,43.3 L259.1,25.3 L259.5,17.4 L259.5,17.5 L259.9,22.4 L260.3,36.8 L260.7,55.3 L261.1,73.6 L261.5,89.8 L261.9,103.0 L262.3,113.3 L262.7,121.3 L263.1,127.3 L263.5,132.0 L263.9,135.7 L264.3,138.7 L264.7,141.2 L265.1,143.6 L265.5,145.6 L265.9,147.5 L266.3,149.0 L266.7,150.4 L267.1,151.5 L267.5,152.8 L267.9,154.0 L268.3,155.2 L268.7,156.2 L269.1,156.7 L269.5,156.4 L269.9,155.3 L270.3,153.7 L270.7,151.7 L271.1,149.2 L271.5,146.4 L271.9,143.4 L272.3,140.1 L272.7,136.4 L273.1,132.8 L273.5,129.9 L273.9,128.7 L274.0,128.7 L274.3,129.7 L274.7,132.8 L275.1,137.0 L275.5,141.5 L275.9,145.4 L276.3,148.7 L276.7,151.4 L277.1,153.7 L277.5,156.0 L277.9,157.2 L278.3,156.8 L278.7,155.0 L279.1,152.4 L279.5,150.7 L279.9,151.8 L280.3,153.6 L280.7,155.1 L281.1,156.4 L281.5,157.7 L281.9,158.7 L282.3,159.5 L282.7,160.3 L283.1,161.0 L283.5,161.6 L283.9,162.1 L284.3,162.7 L284.7,163.3 L285.1,163.7 L285.5,163.8 L285.9,163.9 L286.3,164.0 L286.7,163.9 L287.1,163.5 L287.5,162.4 L287.9,160.7 L288.3,158.1 L288.7,154.5 L289.1,149.4 L289.5,142.4 L289.9,133.1 L290.3,122.4 L290.7,112.9 L291.1,104.5 L291.5,98.2 L291.9,95.1 L292.0,94.9 L292.3,95.8 L292.7,99.9 L293.1,106.7 L293.5,115.2 L293.9,124.5 L294.3,133.3 L294.7,141.1 L295.1,147.5 L295.5,152.8 L295.9,157.0 L296.3,160.2 L296.7,162.6 L297.1,164.0 L297.5,165.0 L297.9,165.8 L298.3,166.5 L298.7,167.1 L299.1,167.6 L299.5,167.9 L299.9,168.1 L300.3,168.1 L300.7,168.3 L301.1,168.4 L301.5,168.5 L301.9,168.6 L302.3,168.6 L302.7,168.6 L303.1,168.6 L303.5,168.7 L303.9,168.7 L304.3,168.7 L304.7,168.8 L305.1,169.0 L305.5,169.1 L305.9,169.1 L306.3,169.2 L306.7,169.4 L307.1,169.5 L307.5,169.4 L307.9,169.3 L308.3,169.3 L308.7,169.4 L309.1,169.5 L309.5,169.7 L309.9,169.7 L310.3,169.6 L310.7,169.5 L311.1,169.5 L311.5,169.6 L311.9,169.7 L312.3,169.8 L312.7,169.8 L313.1,169.9 L313.5,170.0 L313.9,170.1 L314.3,170.0 L314.7,169.9 L315.1,170.0 L315.5,170.1 L315.9,170.1 L316.3,170.1 L316.7,170.1 L317.1,170.1 L317.5,170.1 L317.9,170.1 L318.3,170.2 L318.7,170.3 L319.1,170.5 L319.5,170.5 L319.9,170.4 L320.3,170.3 L320.7,170.3 L321.1,170.3 L321.5,170.2 L321.9,170.1 L322.3,170.0 L322.7,170.1 L323.1,170.1 L323.5,170.2 L323.9,170.3 L324.3,170.3 L324.7,170.3 L325.1,170.4 L325.5,170.4 L325.9,170.5 L326.3,170.5 L326.7,170.4 L327.1,170.3 L327.5,170.3 L327.9,170.4 L328.3,170.4 L328.7,170.5 L329.1,170.6 L329.5,170.7 L329.9,170.7 L330.3,170.7 L330.7,170.8 L331.1,171.0 L331.5,171.0 L331.9,170.9 L332.3,170.8 L332.7,170.6 L333.1,170.6 L333.5,170.6 L333.9,170.6 L334.3,170.6 L334.7,170.6 L335.1,170.6 L335.5,170.6 L335.9,170.6 L336.3,170.6 L336.7,170.7 L337.1,170.7 L337.5,170.7 L337.9,170.6 L338.3,170.6 L338.7,170.5 L339.1,170.6 L339.5,170.7 L339.9,170.8 L340.3,170.7 L340.7,170.6 L341.1,170.7 L341.5,170.8 L341.9,170.8 L342.3,170.5 L342.7,170.5 L343.1,170.5 L343.5,170.7 L343.9,170.7 L344.3,170.7 L344.7,170.5 L345.1,170.5 L345.5,170.6 L345.9,170.7 L346.3,170.7 L346.7,170.6 L347.1,170.6 L347.5,170.8 L347.9,170.9 L348.3,171.1 L348.7,170.9 L349.1,170.8 L349.5,170.5 L349.9,170.4 L350.3,170.4 L350.7,170.4 L351.1,170.4 L351.5,170.4 L351.9,170.5 L352.3,170.5 L352.7,170.5 L353.1,170.6 L353.5,170.6 L353.9,170.6 L354.3,170.6 L354.7,170.5 L355.1,170.4 L355.5,170.4 L355.9,170.4 L356.3,170.4 L356.7,170.6 L357.1,170.6 L357.5,170.4 L357.9,170.2 L358.3,170.0 L358.7,170.0 L359.1,170.1 L359.5,170.2 L359.9,170.2 L360.3,170.2 L360.7,170.2 L361.1,170.2 L361.5,170.2 L361.9,170.1 L362.3,169.9 L362.7,169.8 L363.1,169.7 L363.5,169.6 L363.9,169.5 L364.3,169.5 L364.7,169.7 L365.1,169.7 L365.5,169.7 L365.9,169.7 L366.3,169.6 L366.7,169.5 L367.1,169.5 L367.5,169.5 L367.9,169.6 L368.3,169.7 L368.7,169.7 L369.1,169.8 L369.5,169.9 L369.9,169.9 L370.3,169.9 L370.7,170.0 L371.1,170.1 L371.5,170.0 L371.9,169.8 L372.3,169.6" fill="none" stroke="#1133f7" stroke-width="2.2" stroke-linejoin="round" stroke-linecap="round"/>
</g>
<g stroke="#000" stroke-width="1.8" fill="none" stroke-linecap="square">
<line x1="25.9" y1="1.8" x2="25.9" y2="283.1" stroke-width="2.1"/>
<line x1="25.9" y1="1.8" x2="373" y2="1.8" stroke-width="1.8"/>
<line x1="373" y1="1.8" x2="373" y2="283.1" stroke-width="1.8"/>
<line x1="25.9" y1="283.15" x2="373" y2="283.15" stroke-width="2.0"/>
</g>
<g stroke="#000" stroke-width="1.7" fill="none">
<line x1="49.13" y1="283.0" x2="49.13" y2="278.4"/>
<line x1="72.26" y1="283.0" x2="72.26" y2="280.4"/>
<line x1="95.39" y1="283.0" x2="95.39" y2="278.4"/>
<line x1="118.52" y1="283.0" x2="118.52" y2="280.4"/>
<line x1="141.65" y1="283.0" x2="141.65" y2="278.4"/>
<line x1="164.78" y1="283.0" x2="164.78" y2="280.4"/>
<line x1="187.91" y1="283.0" x2="187.91" y2="278.4"/>
<line x1="211.04" y1="283.0" x2="211.04" y2="280.4"/>
<line x1="234.17" y1="283.0" x2="234.17" y2="278.4"/>
<line x1="257.30" y1="283.0" x2="257.30" y2="280.4"/>
<line x1="280.43" y1="283.0" x2="280.43" y2="278.4"/>
<line x1="303.56" y1="283.0" x2="303.56" y2="280.4"/>
<line x1="326.69" y1="283.0" x2="326.69" y2="278.4"/>
<line x1="349.82" y1="283.0" x2="349.82" y2="280.4"/>
</g>
<line x1="81.9" y1="20.1" x2="81.9" y2="56.6" stroke="#000" stroke-width="2.1"/>
<text x="92.2" y="39.9" font-size="15.5px">20000 units</text>
<g font-size="16.3px">
<text x="49.1" y="302.95" text-anchor="middle">600</text>
<text x="95.4" y="302.95" text-anchor="middle">800</text>
<text x="141.7" y="302.95" text-anchor="middle">1000</text>
<text x="187.9" y="302.95" text-anchor="middle">1200</text>
<text x="234.2" y="302.95" text-anchor="middle">1400</text>
<text x="280.4" y="302.95" text-anchor="middle">1600</text>
<text x="326.7" y="302.95" text-anchor="middle">1800</text>
<text x="372.9" y="302.95" text-anchor="middle">2000</text>
</g>
<g font-size="11.4px">
<text x="344.3" y="139.9" text-anchor="middle">sputtering</text>
<text x="345.9" y="153.9" text-anchor="middle">time</text>
</g>
<g font-size="12.9px"><text x="358.3" y="168.6" text-anchor="end">90<tspan font-size="5px"> </tspan>s</text><text x="358.3" y="183.7" text-anchor="end">60<tspan font-size="5px"> </tspan>s</text><text x="358.3" y="199.2" text-anchor="end">45<tspan font-size="5px"> </tspan>s</text><text x="358.3" y="215.0" text-anchor="end">30<tspan font-size="5px"> </tspan>s</text><text x="358.3" y="231.0" text-anchor="end">75<tspan font-size="5px"> </tspan>s</text><text x="358.3" y="247.6" text-anchor="end">120<tspan font-size="5px"> </tspan>s</text><text x="358.3" y="262.9" text-anchor="end">105<tspan font-size="5px"> </tspan>s</text><text x="358.3" y="276.5" text-anchor="end">15<tspan font-size="5px"> </tspan>s</text></g>
<text x="150.2" y="324" font-size="17.15px" textLength="96" lengthAdjust="spacingAndGlyphs">Raman shift</text>
<text x="250.4" y="324" font-size="16.7px">(cm</text>
<text x="276.5" y="315.5" font-size="9.5px">-1</text>
<text x="284.3" y="324" font-size="17.15px">)</text>
<text transform="translate(15.1,203.2) rotate(-90)" font-size="17.6px" textLength="112.4" lengthAdjust="spacingAndGlyphs">Intensity (a.u.)</text>
</svg>
</body></html>
